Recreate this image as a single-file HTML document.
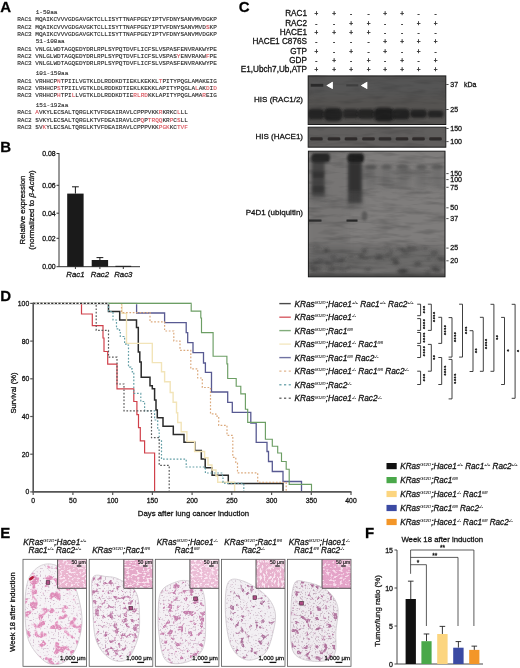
<!DOCTYPE html>
<html><head><meta charset="utf-8"><title>Figure</title>
<style>html,body{margin:0;padding:0;background:#fff;} svg{display:block;filter:blur(0.3px);} text[font-family^="'Liberation Sans'"]{stroke:#111;stroke-width:0.28px;}</style>
</head><body>
<svg width="520" height="668" viewBox="0 0 520 668">
<defs>
<filter id="bl03" x="-20%" y="-20%" width="140%" height="140%"><feGaussianBlur stdDeviation="0.3"/></filter>
<filter id="bl04" x="-20%" y="-20%" width="140%" height="140%"><feGaussianBlur stdDeviation="0.4"/></filter>
<filter id="bl06" x="-50%" y="-50%" width="200%" height="200%"><feGaussianBlur stdDeviation="0.6"/></filter>
<filter id="bl1" x="-50%" y="-50%" width="200%" height="200%"><feGaussianBlur stdDeviation="1"/></filter>
<filter id="bl15" x="-50%" y="-50%" width="200%" height="200%"><feGaussianBlur stdDeviation="1.5"/></filter>
<filter id="bl3" x="-50%" y="-50%" width="200%" height="200%"><feGaussianBlur stdDeviation="3"/></filter>
<filter id="ft0" x="0" y="0" width="100%" height="100%" color-interpolation-filters="sRGB"><feTurbulence type="fractalNoise" baseFrequency="0.13" numOctaves="2" seed="11" result="big"/><feColorMatrix in="big" type="matrix" values="0 0 0 0 0.93  0 0 0 0 0.68  0 0 0 0 0.82  12 0 0 0 -6.480" result="halo"/><feColorMatrix in="big" type="matrix" values="0 0 0 0 0.85  0 0 0 0 0.44  0 0 0 0 0.66  12 0 0 0 -6.960" result="core"/><feTurbulence type="fractalNoise" baseFrequency="0.6" numOctaves="1" seed="31" result="fine"/><feColorMatrix in="fine" type="matrix" values="0 0 0 0 0  0 0 0 0 0  0 0 0 0 0  3 0 0 0 -0.6" result="fmask"/><feComposite in="halo" in2="fmask" operator="in" result="h2"/><feComposite in="core" in2="fmask" operator="in" result="c2"/><feMerge result="m"><feMergeNode in="h2"/><feMergeNode in="c2"/></feMerge><feComponentTransfer in="m"><feFuncA type="linear" slope="0.78"/></feComponentTransfer></filter>
<filter id="fs0" x="0" y="0" width="100%" height="100%" color-interpolation-filters="sRGB"><feTurbulence type="fractalNoise" baseFrequency="0.6" numOctaves="1" seed="51"/><feColorMatrix type="matrix" values="0 0 0 0 0.8  0 0 0 0 0.7  0 0 0 0 0.78  5 0 0 0 -2.85"/></filter>
<filter id="fi0" x="0" y="0" width="100%" height="100%" color-interpolation-filters="sRGB"><feTurbulence type="fractalNoise" baseFrequency="0.35 0.5" numOctaves="2" seed="71"/><feColorMatrix type="matrix" values="0 0 0 0 0.98  0 0 0 0 0.9  0 0 0 0 0.95  6 0 0 0 -3.0"/></filter>
<filter id="ft1" x="0" y="0" width="100%" height="100%" color-interpolation-filters="sRGB"><feTurbulence type="fractalNoise" baseFrequency="0.21" numOctaves="2" seed="12" result="big"/><feColorMatrix in="big" type="matrix" values="0 0 0 0 0.86  0 0 0 0 0.68  0 0 0 0 0.8  12 0 0 0 -6.660" result="halo"/><feColorMatrix in="big" type="matrix" values="0 0 0 0 0.68  0 0 0 0 0.36  0 0 0 0 0.57  12 0 0 0 -7.140" result="core"/><feTurbulence type="fractalNoise" baseFrequency="0.6" numOctaves="1" seed="32" result="fine"/><feColorMatrix in="fine" type="matrix" values="0 0 0 0 0  0 0 0 0 0  0 0 0 0 0  3 0 0 0 -0.6" result="fmask"/><feComposite in="halo" in2="fmask" operator="in" result="h2"/><feComposite in="core" in2="fmask" operator="in" result="c2"/><feMerge result="m"><feMergeNode in="h2"/><feMergeNode in="c2"/></feMerge><feComponentTransfer in="m"><feFuncA type="linear" slope="0.78"/></feComponentTransfer></filter>
<filter id="fs1" x="0" y="0" width="100%" height="100%" color-interpolation-filters="sRGB"><feTurbulence type="fractalNoise" baseFrequency="0.6" numOctaves="1" seed="52"/><feColorMatrix type="matrix" values="0 0 0 0 0.76  0 0 0 0 0.66  0 0 0 0 0.74  5 0 0 0 -2.8"/></filter>
<filter id="fi1" x="0" y="0" width="100%" height="100%" color-interpolation-filters="sRGB"><feTurbulence type="fractalNoise" baseFrequency="0.3 0.55" numOctaves="2" seed="72"/><feColorMatrix type="matrix" values="0 0 0 0 0.98  0 0 0 0 0.9  0 0 0 0 0.94  6 0 0 0 -2.95"/></filter>
<filter id="ft2" x="0" y="0" width="100%" height="100%" color-interpolation-filters="sRGB"><feTurbulence type="fractalNoise" baseFrequency="0.19" numOctaves="2" seed="13" result="big"/><feColorMatrix in="big" type="matrix" values="0 0 0 0 0.88  0 0 0 0 0.7  0 0 0 0 0.81  12 0 0 0 -6.780" result="halo"/><feColorMatrix in="big" type="matrix" values="0 0 0 0 0.72  0 0 0 0 0.38  0 0 0 0 0.6  12 0 0 0 -7.200" result="core"/><feTurbulence type="fractalNoise" baseFrequency="0.6" numOctaves="1" seed="33" result="fine"/><feColorMatrix in="fine" type="matrix" values="0 0 0 0 0  0 0 0 0 0  0 0 0 0 0  3 0 0 0 -0.6" result="fmask"/><feComposite in="halo" in2="fmask" operator="in" result="h2"/><feComposite in="core" in2="fmask" operator="in" result="c2"/><feMerge result="m"><feMergeNode in="h2"/><feMergeNode in="c2"/></feMerge><feComponentTransfer in="m"><feFuncA type="linear" slope="0.78"/></feComponentTransfer></filter>
<filter id="fs2" x="0" y="0" width="100%" height="100%" color-interpolation-filters="sRGB"><feTurbulence type="fractalNoise" baseFrequency="0.6" numOctaves="1" seed="53"/><feColorMatrix type="matrix" values="0 0 0 0 0.78  0 0 0 0 0.68  0 0 0 0 0.76  5 0 0 0 -2.8"/></filter>
<filter id="fi2" x="0" y="0" width="100%" height="100%" color-interpolation-filters="sRGB"><feTurbulence type="fractalNoise" baseFrequency="0.35 0.5" numOctaves="2" seed="73"/><feColorMatrix type="matrix" values="0 0 0 0 0.99  0 0 0 0 0.92  0 0 0 0 0.96  6 0 0 0 -2.9"/></filter>
<filter id="ft3" x="0" y="0" width="100%" height="100%" color-interpolation-filters="sRGB"><feTurbulence type="fractalNoise" baseFrequency="0.2" numOctaves="2" seed="14" result="big"/><feColorMatrix in="big" type="matrix" values="0 0 0 0 0.84  0 0 0 0 0.72  0 0 0 0 0.8  12 0 0 0 -7.020" result="halo"/><feColorMatrix in="big" type="matrix" values="0 0 0 0 0.6  0 0 0 0 0.32  0 0 0 0 0.52  12 0 0 0 -7.440" result="core"/><feTurbulence type="fractalNoise" baseFrequency="0.6" numOctaves="1" seed="34" result="fine"/><feColorMatrix in="fine" type="matrix" values="0 0 0 0 0  0 0 0 0 0  0 0 0 0 0  3 0 0 0 -0.6" result="fmask"/><feComposite in="halo" in2="fmask" operator="in" result="h2"/><feComposite in="core" in2="fmask" operator="in" result="c2"/><feMerge result="m"><feMergeNode in="h2"/><feMergeNode in="c2"/></feMerge><feComponentTransfer in="m"><feFuncA type="linear" slope="0.78"/></feComponentTransfer></filter>
<filter id="fs3" x="0" y="0" width="100%" height="100%" color-interpolation-filters="sRGB"><feTurbulence type="fractalNoise" baseFrequency="0.6" numOctaves="1" seed="54"/><feColorMatrix type="matrix" values="0 0 0 0 0.78  0 0 0 0 0.72  0 0 0 0 0.77  5 0 0 0 -2.9"/></filter>
<filter id="fi3" x="0" y="0" width="100%" height="100%" color-interpolation-filters="sRGB"><feTurbulence type="fractalNoise" baseFrequency="0.5 0.3" numOctaves="2" seed="74"/><feColorMatrix type="matrix" values="0 0 0 0 0.98  0 0 0 0 0.91  0 0 0 0 0.95  6 0 0 0 -2.9"/></filter>
<filter id="ft4" x="0" y="0" width="100%" height="100%" color-interpolation-filters="sRGB"><feTurbulence type="fractalNoise" baseFrequency="0.18" numOctaves="2" seed="15" result="big"/><feColorMatrix in="big" type="matrix" values="0 0 0 0 0.84  0 0 0 0 0.68  0 0 0 0 0.79  12 0 0 0 -6.840" result="halo"/><feColorMatrix in="big" type="matrix" values="0 0 0 0 0.62  0 0 0 0 0.33  0 0 0 0 0.53  12 0 0 0 -7.260" result="core"/><feTurbulence type="fractalNoise" baseFrequency="0.6" numOctaves="1" seed="35" result="fine"/><feColorMatrix in="fine" type="matrix" values="0 0 0 0 0  0 0 0 0 0  0 0 0 0 0  3 0 0 0 -0.6" result="fmask"/><feComposite in="halo" in2="fmask" operator="in" result="h2"/><feComposite in="core" in2="fmask" operator="in" result="c2"/><feMerge result="m"><feMergeNode in="h2"/><feMergeNode in="c2"/></feMerge><feComponentTransfer in="m"><feFuncA type="linear" slope="0.78"/></feComponentTransfer></filter>
<filter id="fs4" x="0" y="0" width="100%" height="100%" color-interpolation-filters="sRGB"><feTurbulence type="fractalNoise" baseFrequency="0.6" numOctaves="1" seed="55"/><feColorMatrix type="matrix" values="0 0 0 0 0.74  0 0 0 0 0.66  0 0 0 0 0.72  5 0 0 0 -2.7"/></filter>
<filter id="fi4" x="0" y="0" width="100%" height="100%" color-interpolation-filters="sRGB"><feTurbulence type="fractalNoise" baseFrequency="0.3 0.5" numOctaves="2" seed="75"/><feColorMatrix type="matrix" values="0 0 0 0 0.97  0 0 0 0 0.86  0 0 0 0 0.92  6 0 0 0 -3.05"/></filter>
<filter id="grain" x="0" y="0" width="100%" height="100%" color-interpolation-filters="sRGB"><feTurbulence type="fractalNoise" baseFrequency="0.04 0.2" numOctaves="3" seed="77"/><feColorMatrix type="matrix" values="0 0 0 0 0.2  0 0 0 0 0.2  0 0 0 0 0.2  0.7 0 0 0 -0.3"/></filter>
<clipPath id="cb1"><rect x="308.2" y="75.9" width="137.6" height="48.6"/></clipPath>
<clipPath id="cb2"><rect x="308.2" y="127.2" width="137.6" height="20"/></clipPath>
<clipPath id="cb3"><rect x="308.4" y="151.2" width="136.6" height="125.6"/></clipPath>
</defs>
<rect width="520" height="668" fill="#fff"/>
<text x="0.2" y="11.6" font-family="'Liberation Sans', Arial, Helvetica, sans-serif" font-weight="bold" font-size="15">A</text>
<text x="35.7" y="14.0" font-family="'Liberation Mono', 'Courier New', monospace" font-size="6.06" fill="#2a2a2a" stroke="#2a2a2a" stroke-width="0.12" style="white-space:pre">1-50aa</text>
<text x="17.2" y="21.4" font-family="'Liberation Mono', 'Courier New', monospace" font-size="6.06" fill="#2a2a2a" stroke="#2a2a2a" stroke-width="0.12" style="white-space:pre">RAC1 MQAIKCVVVGDGAVGKTCLLISYTTNAFPGEYIPTVFDNYSANVMVDGKP</text>
<text x="17.2" y="28.7" font-family="'Liberation Mono', 'Courier New', monospace" font-size="6.06" fill="#2a2a2a" stroke="#2a2a2a" stroke-width="0.12" style="white-space:pre">RAC2 MQAIKCVVVGDGAVGKTCLLISYTTNAFPGEYIPTVFDNYSANVMVD<tspan fill="#d9535c" stroke="#d9535c">S</tspan>KP</text>
<text x="17.2" y="36.0" font-family="'Liberation Mono', 'Courier New', monospace" font-size="6.06" fill="#2a2a2a" stroke="#2a2a2a" stroke-width="0.12" style="white-space:pre">RAC3 MQAIKCVVVGDGAVGKTCLLISYTTNAFPGEYIPTVFDNYSANVMVDGKP</text>
<text x="35.7" y="43.3" font-family="'Liberation Mono', 'Courier New', monospace" font-size="6.06" fill="#2a2a2a" stroke="#2a2a2a" stroke-width="0.12" style="white-space:pre">51-100aa</text>
<text x="17.2" y="50.6" font-family="'Liberation Mono', 'Courier New', monospace" font-size="6.06" fill="#2a2a2a" stroke="#2a2a2a" stroke-width="0.12" style="white-space:pre">RAC1 VNLGLWDTAGQEDYDRLRPLSYPQTDVFLICFSLVSPASFENVRAKWYPE</text>
<text x="17.2" y="58.0" font-family="'Liberation Mono', 'Courier New', monospace" font-size="6.06" fill="#2a2a2a" stroke="#2a2a2a" stroke-width="0.12" style="white-space:pre">RAC2 VNLGLWDTAGQEDYDRLRPLSYPQTDVFLICFSLVSPAS<tspan fill="#d9535c" stroke="#d9535c">Y</tspan>ENVRAKW<tspan fill="#d9535c" stroke="#d9535c">F</tspan>PE</text>
<text x="17.2" y="65.3" font-family="'Liberation Mono', 'Courier New', monospace" font-size="6.06" fill="#2a2a2a" stroke="#2a2a2a" stroke-width="0.12" style="white-space:pre">RAC3 VNLGLWDTAGQEDYDRLRPLSYPQTDVFLICFSLVSPASFENVRAKWYPE</text>
<text x="35.7" y="75.3" font-family="'Liberation Mono', 'Courier New', monospace" font-size="6.06" fill="#2a2a2a" stroke="#2a2a2a" stroke-width="0.12" style="white-space:pre">101-150aa</text>
<text x="17.2" y="82.6" font-family="'Liberation Mono', 'Courier New', monospace" font-size="6.06" fill="#2a2a2a" stroke="#2a2a2a" stroke-width="0.12" style="white-space:pre">RAC1 VRHHCP<tspan fill="#d9535c" stroke="#d9535c">N</tspan>TPIILVGTKLDLRDDKDTIEKLKEKKL<tspan fill="#d9535c" stroke="#d9535c">T</tspan>PITYPQGLAMAKEIG</text>
<text x="17.2" y="90.0" font-family="'Liberation Mono', 'Courier New', monospace" font-size="6.06" fill="#2a2a2a" stroke="#2a2a2a" stroke-width="0.12" style="white-space:pre">RAC2 VRHHCP<tspan fill="#d9535c" stroke="#d9535c">S</tspan>TPIILVGTKLDLRDDKDTIEKLKEKKLAPITYPQGLA<tspan fill="#d9535c" stroke="#d9535c">L</tspan>AK<tspan fill="#d9535c" stroke="#d9535c">D</tspan>I<tspan fill="#d9535c" stroke="#d9535c">D</tspan></text>
<text x="17.2" y="97.3" font-family="'Liberation Mono', 'Courier New', monospace" font-size="6.06" fill="#2a2a2a" stroke="#2a2a2a" stroke-width="0.12" style="white-space:pre">RAC3 VRHHCP<tspan fill="#d9535c" stroke="#d9535c">H</tspan>TPI<tspan fill="#d9535c" stroke="#d9535c">L</tspan>LVGTKLDLRDDKDTIE<tspan fill="#d9535c" stroke="#d9535c">R</tspan><tspan fill="#d9535c" stroke="#d9535c">L</tspan><tspan fill="#d9535c" stroke="#d9535c">R</tspan><tspan fill="#d9535c" stroke="#d9535c">D</tspan>KKLAPITYPQGLAMA<tspan fill="#d9535c" stroke="#d9535c">R</tspan>EIG</text>
<text x="35.7" y="106.8" font-family="'Liberation Mono', 'Courier New', monospace" font-size="6.06" fill="#2a2a2a" stroke="#2a2a2a" stroke-width="0.12" style="white-space:pre">151-192aa</text>
<text x="17.2" y="114.1" font-family="'Liberation Mono', 'Courier New', monospace" font-size="6.06" fill="#2a2a2a" stroke="#2a2a2a" stroke-width="0.12" style="white-space:pre">RAC1 <tspan fill="#d9535c" stroke="#d9535c">A</tspan>VKYLECSALTQRGLKTVFDEAIRAVLCPPPVKK<tspan fill="#d9535c" stroke="#d9535c">R</tspan>KRKC<tspan fill="#d9535c" stroke="#d9535c">L</tspan>LL</text>
<text x="17.2" y="121.5" font-family="'Liberation Mono', 'Courier New', monospace" font-size="6.06" fill="#2a2a2a" stroke="#2a2a2a" stroke-width="0.12" style="white-space:pre">RAC2 SVKYLECSALTQRGLKTVFDEAIRAVLCP<tspan fill="#d9535c" stroke="#d9535c">Q</tspan>P<tspan fill="#d9535c" stroke="#d9535c">T</tspan><tspan fill="#d9535c" stroke="#d9535c">R</tspan><tspan fill="#d9535c" stroke="#d9535c">Q</tspan><tspan fill="#d9535c" stroke="#d9535c">Q</tspan>KR<tspan fill="#d9535c" stroke="#d9535c">P</tspan>C<tspan fill="#d9535c" stroke="#d9535c">S</tspan>LL</text>
<text x="17.2" y="128.8" font-family="'Liberation Mono', 'Courier New', monospace" font-size="6.06" fill="#2a2a2a" stroke="#2a2a2a" stroke-width="0.12" style="white-space:pre">RAC3 SV<tspan fill="#d9535c" stroke="#d9535c">K</tspan>YLECSALTQRGLKTVFDEAIRAVLCPPPVKK<tspan fill="#d9535c" stroke="#d9535c">P</tspan><tspan fill="#d9535c" stroke="#d9535c">G</tspan><tspan fill="#d9535c" stroke="#d9535c">K</tspan>KC<tspan fill="#d9535c" stroke="#d9535c">T</tspan><tspan fill="#d9535c" stroke="#d9535c">V</tspan><tspan fill="#d9535c" stroke="#d9535c">F</tspan></text>
<text x="0.2" y="151.5" font-family="'Liberation Sans', Arial, Helvetica, sans-serif" font-weight="bold" font-size="15">B</text>
<line x1="59.0" y1="153" x2="59.0" y2="266.7" stroke="#333" stroke-width="1"/>
<line x1="59.0" y1="266.7" x2="140" y2="266.7" stroke="#333" stroke-width="1"/>
<line x1="56.5" y1="153.5" x2="59.0" y2="153.5" stroke="#333" stroke-width="1"/>
<text x="55.7" y="155.9" font-family="'Liberation Sans', Arial, Helvetica, sans-serif" font-size="6.9" fill="#1a1a1a" text-anchor="end">0.08</text>
<line x1="56.5" y1="185.3" x2="59.0" y2="185.3" stroke="#333" stroke-width="1"/>
<text x="55.7" y="187.70000000000002" font-family="'Liberation Sans', Arial, Helvetica, sans-serif" font-size="6.9" fill="#1a1a1a" text-anchor="end">0.06</text>
<line x1="56.5" y1="213.2" x2="59.0" y2="213.2" stroke="#333" stroke-width="1"/>
<text x="55.7" y="215.6" font-family="'Liberation Sans', Arial, Helvetica, sans-serif" font-size="6.9" fill="#1a1a1a" text-anchor="end">0.04</text>
<line x1="56.5" y1="238.3" x2="59.0" y2="238.3" stroke="#333" stroke-width="1"/>
<text x="55.7" y="240.70000000000002" font-family="'Liberation Sans', Arial, Helvetica, sans-serif" font-size="6.9" fill="#1a1a1a" text-anchor="end">0.02</text>
<line x1="56.5" y1="266.7" x2="59.0" y2="266.7" stroke="#333" stroke-width="1"/>
<text x="55.7" y="269.09999999999997" font-family="'Liberation Sans', Arial, Helvetica, sans-serif" font-size="6.9" fill="#1a1a1a" text-anchor="end">0.00</text>
<rect x="67.2" y="193.6" width="16.4" height="73.1" fill="#1a1a1a"/>
<line x1="75.4" y1="186.8" x2="75.4" y2="193.6" stroke="#1a1a1a" stroke-width="1"/>
<line x1="72" y1="186.8" x2="78.8" y2="186.8" stroke="#1a1a1a" stroke-width="1"/>
<rect x="91.7" y="260" width="16.4" height="6.7" fill="#1a1a1a"/>
<line x1="99.9" y1="257.6" x2="99.9" y2="260" stroke="#1a1a1a" stroke-width="1"/>
<line x1="96.5" y1="257.6" x2="103.3" y2="257.6" stroke="#1a1a1a" stroke-width="1"/>
<rect x="115.4" y="265.8" width="15.8" height="1" fill="#1a1a1a"/>
<line x1="75.4" y1="266.7" x2="75.4" y2="269" stroke="#333" stroke-width="1"/>
<line x1="99.9" y1="266.7" x2="99.9" y2="269" stroke="#333" stroke-width="1"/>
<line x1="123.3" y1="266.7" x2="123.3" y2="269" stroke="#333" stroke-width="1"/>
<text x="75.4" y="276.8" font-family="'Liberation Sans', Arial, Helvetica, sans-serif" font-style="italic" font-size="7.8" fill="#151515" text-anchor="middle">Rac1</text>
<text x="99.9" y="276.8" font-family="'Liberation Sans', Arial, Helvetica, sans-serif" font-style="italic" font-size="7.8" fill="#151515" text-anchor="middle">Rac2</text>
<text x="123.3" y="276.8" font-family="'Liberation Sans', Arial, Helvetica, sans-serif" font-style="italic" font-size="7.8" fill="#151515" text-anchor="middle">Rac3</text>
<text transform="translate(24.6,210) rotate(-90)" font-family="'Liberation Sans', Arial, Helvetica, sans-serif" font-size="7.9" fill="#151515" text-anchor="middle">Relative expression</text>
<text transform="translate(34.4,210) rotate(-90)" font-family="'Liberation Sans', Arial, Helvetica, sans-serif" font-size="7.9" fill="#151515" text-anchor="middle">(normalized to <tspan font-style="italic">β-Actin</tspan>)</text>
<text x="238.8" y="11.5" font-family="'Liberation Sans', Arial, Helvetica, sans-serif" font-weight="bold" font-size="15">C</text>
<text x="307" y="16.1" font-family="'Liberation Sans', Arial, Helvetica, sans-serif" font-size="8.2" fill="#111" text-anchor="end">RAC1</text>
<text x="316.4" y="16.1" font-family="'Liberation Sans', Arial, Helvetica, sans-serif" font-size="6.4" fill="#151515" text-anchor="middle">+</text>
<text x="334.0" y="16.1" font-family="'Liberation Sans', Arial, Helvetica, sans-serif" font-size="6.4" fill="#151515" text-anchor="middle">+</text>
<text x="351.0" y="16.1" font-family="'Liberation Sans', Arial, Helvetica, sans-serif" font-size="6.4" fill="#151515" text-anchor="middle">-</text>
<text x="368.5" y="16.1" font-family="'Liberation Sans', Arial, Helvetica, sans-serif" font-size="6.4" fill="#151515" text-anchor="middle">-</text>
<text x="385.0" y="16.1" font-family="'Liberation Sans', Arial, Helvetica, sans-serif" font-size="6.4" fill="#151515" text-anchor="middle">+</text>
<text x="402.0" y="16.1" font-family="'Liberation Sans', Arial, Helvetica, sans-serif" font-size="6.4" fill="#151515" text-anchor="middle">+</text>
<text x="418.5" y="16.1" font-family="'Liberation Sans', Arial, Helvetica, sans-serif" font-size="6.4" fill="#151515" text-anchor="middle">-</text>
<text x="435.5" y="16.1" font-family="'Liberation Sans', Arial, Helvetica, sans-serif" font-size="6.4" fill="#151515" text-anchor="middle">-</text>
<text x="307" y="25.5" font-family="'Liberation Sans', Arial, Helvetica, sans-serif" font-size="8.2" fill="#111" text-anchor="end">RAC2</text>
<text x="316.4" y="25.5" font-family="'Liberation Sans', Arial, Helvetica, sans-serif" font-size="6.4" fill="#151515" text-anchor="middle">-</text>
<text x="334.0" y="25.5" font-family="'Liberation Sans', Arial, Helvetica, sans-serif" font-size="6.4" fill="#151515" text-anchor="middle">-</text>
<text x="351.0" y="25.5" font-family="'Liberation Sans', Arial, Helvetica, sans-serif" font-size="6.4" fill="#151515" text-anchor="middle">+</text>
<text x="368.5" y="25.5" font-family="'Liberation Sans', Arial, Helvetica, sans-serif" font-size="6.4" fill="#151515" text-anchor="middle">+</text>
<text x="385.0" y="25.5" font-family="'Liberation Sans', Arial, Helvetica, sans-serif" font-size="6.4" fill="#151515" text-anchor="middle">-</text>
<text x="402.0" y="25.5" font-family="'Liberation Sans', Arial, Helvetica, sans-serif" font-size="6.4" fill="#151515" text-anchor="middle">-</text>
<text x="418.5" y="25.5" font-family="'Liberation Sans', Arial, Helvetica, sans-serif" font-size="6.4" fill="#151515" text-anchor="middle">+</text>
<text x="435.5" y="25.5" font-family="'Liberation Sans', Arial, Helvetica, sans-serif" font-size="6.4" fill="#151515" text-anchor="middle">+</text>
<text x="307" y="34.8" font-family="'Liberation Sans', Arial, Helvetica, sans-serif" font-size="8.2" fill="#111" text-anchor="end">HACE1</text>
<text x="316.4" y="34.8" font-family="'Liberation Sans', Arial, Helvetica, sans-serif" font-size="6.4" fill="#151515" text-anchor="middle">+</text>
<text x="334.0" y="34.8" font-family="'Liberation Sans', Arial, Helvetica, sans-serif" font-size="6.4" fill="#151515" text-anchor="middle">+</text>
<text x="351.0" y="34.8" font-family="'Liberation Sans', Arial, Helvetica, sans-serif" font-size="6.4" fill="#151515" text-anchor="middle">+</text>
<text x="368.5" y="34.8" font-family="'Liberation Sans', Arial, Helvetica, sans-serif" font-size="6.4" fill="#151515" text-anchor="middle">+</text>
<text x="385.0" y="34.8" font-family="'Liberation Sans', Arial, Helvetica, sans-serif" font-size="6.4" fill="#151515" text-anchor="middle">-</text>
<text x="402.0" y="34.8" font-family="'Liberation Sans', Arial, Helvetica, sans-serif" font-size="6.4" fill="#151515" text-anchor="middle">-</text>
<text x="418.5" y="34.8" font-family="'Liberation Sans', Arial, Helvetica, sans-serif" font-size="6.4" fill="#151515" text-anchor="middle">-</text>
<text x="435.5" y="34.8" font-family="'Liberation Sans', Arial, Helvetica, sans-serif" font-size="6.4" fill="#151515" text-anchor="middle">-</text>
<text x="307" y="44.2" font-family="'Liberation Sans', Arial, Helvetica, sans-serif" font-size="8.2" fill="#111" text-anchor="end">HACE1 C876S</text>
<text x="316.4" y="44.2" font-family="'Liberation Sans', Arial, Helvetica, sans-serif" font-size="6.4" fill="#151515" text-anchor="middle">-</text>
<text x="334.0" y="44.2" font-family="'Liberation Sans', Arial, Helvetica, sans-serif" font-size="6.4" fill="#151515" text-anchor="middle">-</text>
<text x="351.0" y="44.2" font-family="'Liberation Sans', Arial, Helvetica, sans-serif" font-size="6.4" fill="#151515" text-anchor="middle">-</text>
<text x="368.5" y="44.2" font-family="'Liberation Sans', Arial, Helvetica, sans-serif" font-size="6.4" fill="#151515" text-anchor="middle">-</text>
<text x="385.0" y="44.2" font-family="'Liberation Sans', Arial, Helvetica, sans-serif" font-size="6.4" fill="#151515" text-anchor="middle">+</text>
<text x="402.0" y="44.2" font-family="'Liberation Sans', Arial, Helvetica, sans-serif" font-size="6.4" fill="#151515" text-anchor="middle">+</text>
<text x="418.5" y="44.2" font-family="'Liberation Sans', Arial, Helvetica, sans-serif" font-size="6.4" fill="#151515" text-anchor="middle">+</text>
<text x="435.5" y="44.2" font-family="'Liberation Sans', Arial, Helvetica, sans-serif" font-size="6.4" fill="#151515" text-anchor="middle">+</text>
<text x="307" y="53.6" font-family="'Liberation Sans', Arial, Helvetica, sans-serif" font-size="8.2" fill="#111" text-anchor="end">GTP</text>
<text x="316.4" y="53.6" font-family="'Liberation Sans', Arial, Helvetica, sans-serif" font-size="6.4" fill="#151515" text-anchor="middle">+</text>
<text x="334.0" y="53.6" font-family="'Liberation Sans', Arial, Helvetica, sans-serif" font-size="6.4" fill="#151515" text-anchor="middle">-</text>
<text x="351.0" y="53.6" font-family="'Liberation Sans', Arial, Helvetica, sans-serif" font-size="6.4" fill="#151515" text-anchor="middle">+</text>
<text x="368.5" y="53.6" font-family="'Liberation Sans', Arial, Helvetica, sans-serif" font-size="6.4" fill="#151515" text-anchor="middle">-</text>
<text x="385.0" y="53.6" font-family="'Liberation Sans', Arial, Helvetica, sans-serif" font-size="6.4" fill="#151515" text-anchor="middle">+</text>
<text x="402.0" y="53.6" font-family="'Liberation Sans', Arial, Helvetica, sans-serif" font-size="6.4" fill="#151515" text-anchor="middle">-</text>
<text x="418.5" y="53.6" font-family="'Liberation Sans', Arial, Helvetica, sans-serif" font-size="6.4" fill="#151515" text-anchor="middle">+</text>
<text x="435.5" y="53.6" font-family="'Liberation Sans', Arial, Helvetica, sans-serif" font-size="6.4" fill="#151515" text-anchor="middle">-</text>
<text x="307" y="62.9" font-family="'Liberation Sans', Arial, Helvetica, sans-serif" font-size="8.2" fill="#111" text-anchor="end">GDP</text>
<text x="316.4" y="62.9" font-family="'Liberation Sans', Arial, Helvetica, sans-serif" font-size="6.4" fill="#151515" text-anchor="middle">-</text>
<text x="334.0" y="62.9" font-family="'Liberation Sans', Arial, Helvetica, sans-serif" font-size="6.4" fill="#151515" text-anchor="middle">+</text>
<text x="351.0" y="62.9" font-family="'Liberation Sans', Arial, Helvetica, sans-serif" font-size="6.4" fill="#151515" text-anchor="middle">-</text>
<text x="368.5" y="62.9" font-family="'Liberation Sans', Arial, Helvetica, sans-serif" font-size="6.4" fill="#151515" text-anchor="middle">+</text>
<text x="385.0" y="62.9" font-family="'Liberation Sans', Arial, Helvetica, sans-serif" font-size="6.4" fill="#151515" text-anchor="middle">-</text>
<text x="402.0" y="62.9" font-family="'Liberation Sans', Arial, Helvetica, sans-serif" font-size="6.4" fill="#151515" text-anchor="middle">+</text>
<text x="418.5" y="62.9" font-family="'Liberation Sans', Arial, Helvetica, sans-serif" font-size="6.4" fill="#151515" text-anchor="middle">-</text>
<text x="435.5" y="62.9" font-family="'Liberation Sans', Arial, Helvetica, sans-serif" font-size="6.4" fill="#151515" text-anchor="middle">+</text>
<text x="307" y="72.3" font-family="'Liberation Sans', Arial, Helvetica, sans-serif" font-size="8.2" fill="#111" text-anchor="end">E1,Ubch7,Ub,ATP</text>
<text x="316.4" y="72.3" font-family="'Liberation Sans', Arial, Helvetica, sans-serif" font-size="6.4" fill="#151515" text-anchor="middle">+</text>
<text x="334.0" y="72.3" font-family="'Liberation Sans', Arial, Helvetica, sans-serif" font-size="6.4" fill="#151515" text-anchor="middle">+</text>
<text x="351.0" y="72.3" font-family="'Liberation Sans', Arial, Helvetica, sans-serif" font-size="6.4" fill="#151515" text-anchor="middle">+</text>
<text x="368.5" y="72.3" font-family="'Liberation Sans', Arial, Helvetica, sans-serif" font-size="6.4" fill="#151515" text-anchor="middle">+</text>
<text x="385.0" y="72.3" font-family="'Liberation Sans', Arial, Helvetica, sans-serif" font-size="6.4" fill="#151515" text-anchor="middle">+</text>
<text x="402.0" y="72.3" font-family="'Liberation Sans', Arial, Helvetica, sans-serif" font-size="6.4" fill="#151515" text-anchor="middle">+</text>
<text x="418.5" y="72.3" font-family="'Liberation Sans', Arial, Helvetica, sans-serif" font-size="6.4" fill="#151515" text-anchor="middle">+</text>
<text x="435.5" y="72.3" font-family="'Liberation Sans', Arial, Helvetica, sans-serif" font-size="6.4" fill="#151515" text-anchor="middle">+</text>
<text x="303" y="101.8" font-family="'Liberation Sans', Arial, Helvetica, sans-serif" font-size="8" fill="#151515" text-anchor="end">HIS (RAC1/2)</text>
<text x="303" y="138.9" font-family="'Liberation Sans', Arial, Helvetica, sans-serif" font-size="8" fill="#151515" text-anchor="end">HIS (HACE1)</text>
<text x="303" y="215.3" font-family="'Liberation Sans', Arial, Helvetica, sans-serif" font-size="8" fill="#151515" text-anchor="end">P4D1 (ubiquitin)</text>
<g clip-path="url(#cb1)">
<rect x="308.2" y="75.9" width="137.6" height="48.6" fill="#555351"/>
<rect x="308.2" y="75.9" width="137.6" height="20" fill="#555" filter="url(#bl3)"/>
<rect x="307.5" y="108.7" width="17.0" height="11.0" rx="4.4" fill="#1f1f1f" opacity="0.85" filter="url(#bl1)"/>
<rect x="323.5" y="108.0" width="19.0" height="13.0" rx="5.2" fill="#1f1f1f" opacity="0.92" filter="url(#bl1)"/>
<rect x="342.7" y="109.0" width="16" height="9.6" rx="3.8" fill="#1f1f1f" opacity="0.82" filter="url(#bl1)"/>
<rect x="357.5" y="109" width="17.0" height="10" rx="4.0" fill="#1f1f1f" opacity="0.85" filter="url(#bl1)"/>
<rect x="373.5" y="107.7" width="21.0" height="13.6" rx="5.4" fill="#1f1f1f" opacity="0.97" filter="url(#bl1)"/>
<rect x="392" y="108.8" width="18" height="11.0" rx="4.4" fill="#1f1f1f" opacity="0.9" filter="url(#bl1)"/>
<rect x="410.3" y="109.6" width="16.4" height="8.4" rx="3.4" fill="#1f1f1f" opacity="0.9" filter="url(#bl1)"/>
<rect x="427.7" y="110.4" width="15.6" height="7.2" rx="2.9" fill="#1f1f1f" opacity="0.9" filter="url(#bl1)"/>
<rect x="310.8" y="83.9" width="12.4" height="2.8" fill="#1c1c1c" opacity="0.75" filter="url(#bl06)"/>
<rect x="346.3" y="84.2" width="12" height="2.2" fill="#2a2a2a" opacity="0.5" filter="url(#bl06)"/>
</g>
<rect x="308.2" y="75.9" width="137.6" height="48.6" fill="none" stroke="#161616" stroke-width="1"/>
<polygon points="326.5,85.4 332.7,81.8 332.7,89" fill="#fff"/>
<polygon points="361,85.4 367.2,81.8 367.2,89" fill="#fff"/>
<g clip-path="url(#cb2)">
<rect x="308.2" y="127.2" width="137.6" height="20" fill="#605e5d"/>
<rect x="310.1" y="137.3" width="12.6" height="3.2" rx="1.2" fill="#262423" opacity="0.85" filter="url(#bl06)"/>
<rect x="327.7" y="137.3" width="12.6" height="3.2" rx="1.2" fill="#262423" opacity="0.85" filter="url(#bl06)"/>
<rect x="344.7" y="137.3" width="12.6" height="3.2" rx="1.2" fill="#262423" opacity="0.85" filter="url(#bl06)"/>
<rect x="362.2" y="137.3" width="12.6" height="3.2" rx="1.2" fill="#262423" opacity="0.85" filter="url(#bl06)"/>
<rect x="378.7" y="137.3" width="12.6" height="3.2" rx="1.2" fill="#262423" opacity="0.85" filter="url(#bl06)"/>
<rect x="395.7" y="137.3" width="12.6" height="3.2" rx="1.2" fill="#262423" opacity="0.85" filter="url(#bl06)"/>
<rect x="412.2" y="137.3" width="12.6" height="3.2" rx="1.2" fill="#262423" opacity="0.85" filter="url(#bl06)"/>
<rect x="429.2" y="137.3" width="12.6" height="3.2" rx="1.2" fill="#262423" opacity="0.85" filter="url(#bl06)"/>
</g>
<rect x="308.2" y="127.2" width="137.6" height="20" fill="none" stroke="#161616" stroke-width="1"/>
<g clip-path="url(#cb3)">
<rect x="308.4" y="151.2" width="136.6" height="125.6" fill="#7f7d7c"/>
<rect x="312" y="158" width="12.5" height="38" fill="#2e2e2e" opacity="0.75" filter="url(#bl15)"/>
<rect x="311" y="188" width="14.5" height="14" fill="#3e3e3e" opacity="0.35" filter="url(#bl3)"/>
<rect x="348" y="158" width="13.8" height="45" fill="#2e2e2e" opacity="0.75" filter="url(#bl15)"/>
<rect x="347" y="195" width="15.8" height="14" fill="#3e3e3e" opacity="0.35" filter="url(#bl3)"/>
<rect x="311.5" y="153.2" width="18.5" height="9" rx="3.5" fill="#1c1c1c" filter="url(#bl1)"/>
<rect x="347.5" y="153.2" width="16.5" height="9" rx="3.5" fill="#1c1c1c" filter="url(#bl1)"/>
<rect x="309" y="219.5" width="12.5" height="2.2" fill="#1c1c1c" opacity="0.9" filter="url(#bl06)"/>
<rect x="346.5" y="219.5" width="11" height="2.2" fill="#1c1c1c" opacity="0.9" filter="url(#bl06)"/>
<ellipse cx="364.5" cy="216" rx="3" ry="5" fill="#444" opacity="0.6" filter="url(#bl1)"/>
<ellipse cx="370.75" cy="167" rx="6.25" ry="2.6" fill="#3a3a3a" opacity="0.55" filter="url(#bl15)"/>
<rect x="364.5" y="168" width="12.5" height="20" fill="#5a5a5a" opacity="0.45" filter="url(#bl3)"/>
<ellipse cx="386.5" cy="167" rx="5.5" ry="2.6" fill="#3a3a3a" opacity="0.55" filter="url(#bl15)"/>
<rect x="381" y="168" width="11" height="20" fill="#5a5a5a" opacity="0.45" filter="url(#bl3)"/>
<ellipse cx="402.7" cy="167" rx="6.300000000000011" ry="2.6" fill="#3a3a3a" opacity="0.55" filter="url(#bl15)"/>
<rect x="396.4" y="168" width="12.600000000000023" height="20" fill="#5a5a5a" opacity="0.45" filter="url(#bl3)"/>
<ellipse cx="421.4" cy="167" rx="5.599999999999994" ry="2.6" fill="#3a3a3a" opacity="0.55" filter="url(#bl15)"/>
<rect x="415.8" y="168" width="11.199999999999989" height="20" fill="#5a5a5a" opacity="0.45" filter="url(#bl3)"/>
<ellipse cx="437.25" cy="167" rx="6.25" ry="2.6" fill="#3a3a3a" opacity="0.55" filter="url(#bl15)"/>
<rect x="431" y="168" width="12.5" height="20" fill="#5a5a5a" opacity="0.45" filter="url(#bl3)"/>
<rect x="308" y="246" width="138" height="26" fill="#4a4a4a" opacity="0.35" filter="url(#bl3)"/>
<rect x="308" y="151" width="40" height="126" fill="#555" opacity="0.18" filter="url(#bl3)"/>
<g filter="url(#bl15)" fill="#2e2e2e">
<ellipse cx="341.1" cy="261.1" rx="2.9" ry="2.0" opacity="0.39"/>
<ellipse cx="317.8" cy="247.3" rx="4.1" ry="1.6" opacity="0.27"/>
<ellipse cx="443.4" cy="259.2" rx="4.1" ry="1.9" opacity="0.39"/>
<ellipse cx="329.3" cy="263.5" rx="4.2" ry="1.9" opacity="0.42"/>
<ellipse cx="399.6" cy="248.7" rx="3.9" ry="2.0" opacity="0.29"/>
<ellipse cx="313.2" cy="269.5" rx="3.2" ry="2.2" opacity="0.46"/>
<ellipse cx="405.4" cy="270.9" rx="3.0" ry="2.3" opacity="0.33"/>
<ellipse cx="435.3" cy="269.9" rx="2.2" ry="1.4" opacity="0.27"/>
<ellipse cx="439.3" cy="258.3" rx="3.6" ry="1.6" opacity="0.35"/>
<ellipse cx="361.1" cy="256.1" rx="3.5" ry="2.0" opacity="0.47"/>
<ellipse cx="401.1" cy="271.2" rx="4.1" ry="2.6" opacity="0.40"/>
<ellipse cx="331.0" cy="269.4" rx="4.4" ry="2.5" opacity="0.37"/>
<ellipse cx="405.4" cy="252.5" rx="4.1" ry="2.0" opacity="0.29"/>
<ellipse cx="317.6" cy="269.2" rx="4.5" ry="1.3" opacity="0.44"/>
<ellipse cx="364.4" cy="250.9" rx="2.7" ry="2.3" opacity="0.46"/>
<ellipse cx="315.0" cy="263.0" rx="2.1" ry="2.2" opacity="0.30"/>
<ellipse cx="427.9" cy="272.5" rx="3.3" ry="2.6" opacity="0.29"/>
<ellipse cx="319.4" cy="262.6" rx="2.1" ry="1.5" opacity="0.32"/>
<ellipse cx="391.4" cy="251.1" rx="2.1" ry="2.4" opacity="0.29"/>
<ellipse cx="438.4" cy="270.3" rx="2.9" ry="1.8" opacity="0.36"/>
<ellipse cx="395.9" cy="262.5" rx="3.4" ry="2.1" opacity="0.48"/>
<ellipse cx="377.4" cy="258.2" rx="3.8" ry="1.5" opacity="0.29"/>
<ellipse cx="441.0" cy="260.5" rx="3.4" ry="1.2" opacity="0.32"/>
<ellipse cx="387.3" cy="247.5" rx="3.5" ry="2.1" opacity="0.22"/>
<ellipse cx="393.7" cy="259.1" rx="3.7" ry="1.7" opacity="0.41"/>
<ellipse cx="408.6" cy="247.6" rx="2.2" ry="2.1" opacity="0.49"/>
<ellipse cx="342.9" cy="258.9" rx="3.5" ry="1.6" opacity="0.31"/>
<ellipse cx="351.2" cy="256.6" rx="3.5" ry="1.6" opacity="0.31"/>
<ellipse cx="413.3" cy="247.7" rx="3.4" ry="2.2" opacity="0.29"/>
<ellipse cx="339.0" cy="267.9" rx="2.6" ry="1.5" opacity="0.33"/>
<ellipse cx="403.2" cy="249.6" rx="2.8" ry="1.7" opacity="0.45"/>
<ellipse cx="368.2" cy="269.2" rx="2.4" ry="1.7" opacity="0.40"/>
<ellipse cx="428.5" cy="258.7" rx="2.6" ry="1.4" opacity="0.36"/>
<ellipse cx="334.8" cy="268.0" rx="4.1" ry="1.5" opacity="0.28"/>
<ellipse cx="418.0" cy="263.7" rx="4.0" ry="1.7" opacity="0.24"/>
<ellipse cx="348.4" cy="267.6" rx="2.7" ry="1.7" opacity="0.33"/>
<ellipse cx="365.7" cy="257.6" rx="4.3" ry="1.4" opacity="0.20"/>
<ellipse cx="436.3" cy="269.9" rx="4.5" ry="1.8" opacity="0.49"/>
<ellipse cx="434.2" cy="252.8" rx="3.9" ry="2.4" opacity="0.40"/>
<ellipse cx="379.1" cy="254.5" rx="2.9" ry="1.5" opacity="0.22"/>
<ellipse cx="388.5" cy="254.5" rx="4.0" ry="1.3" opacity="0.47"/>
<ellipse cx="402.7" cy="271.0" rx="4.2" ry="2.5" opacity="0.37"/>
<ellipse cx="310.8" cy="266.4" rx="2.4" ry="1.6" opacity="0.40"/>
<ellipse cx="379.9" cy="257.8" rx="4.3" ry="2.1" opacity="0.30"/>
<ellipse cx="343.1" cy="269.4" rx="3.2" ry="2.3" opacity="0.31"/>
<ellipse cx="335.6" cy="260.9" rx="4.0" ry="1.4" opacity="0.44"/>
<ellipse cx="433.4" cy="268.0" rx="4.1" ry="1.2" opacity="0.39"/>
<ellipse cx="425.4" cy="248.3" rx="2.7" ry="1.6" opacity="0.36"/>
<ellipse cx="366.1" cy="259.3" rx="3.9" ry="1.2" opacity="0.22"/>
<ellipse cx="326.1" cy="250.2" rx="2.2" ry="2.6" opacity="0.46"/>
<ellipse cx="320.6" cy="260.1" rx="2.8" ry="1.6" opacity="0.31"/>
<ellipse cx="396.3" cy="262.3" rx="2.9" ry="1.5" opacity="0.30"/>
<ellipse cx="325.7" cy="261.4" rx="3.8" ry="1.7" opacity="0.22"/>
<ellipse cx="333.1" cy="256.7" rx="3.5" ry="2.3" opacity="0.31"/>
<ellipse cx="417.2" cy="263.2" rx="3.1" ry="1.7" opacity="0.35"/>
</g>
<rect x="312.5" y="172" width="11.5" height="6" fill="#151515" opacity="0.35" filter="url(#bl1)"/>
<rect x="312.5" y="186" width="11.5" height="6" fill="#151515" opacity="0.3" filter="url(#bl1)"/>
<rect x="348.5" y="163" width="13" height="28" fill="#151515" opacity="0.35" filter="url(#bl15)"/>
<rect x="308.4" y="273.5" width="136.6" height="4" fill="#2a2a2a" opacity="0.6" filter="url(#bl1)"/>
</g>
<rect x="308.4" y="151.2" width="136.6" height="125.6" filter="url(#grain)"/>
<rect x="308.2" y="75.9" width="137.6" height="48.6" filter="url(#grain)"/>
<rect x="308.2" y="127.2" width="137.6" height="20" filter="url(#grain)"/>
<rect x="308.4" y="151.2" width="136.6" height="125.6" fill="none" stroke="#161616" stroke-width="1"/>
<polygon points="326.5,85.4 332.7,81.8 332.7,89" fill="#fff"/>
<polygon points="361,85.4 367.2,81.8 367.2,89" fill="#fff"/>
<line x1="446.3" y1="84.5" x2="448.6" y2="84.5" stroke="#222" stroke-width="0.8"/>
<text x="450.3" y="87" font-family="'Liberation Sans', Arial, Helvetica, sans-serif" font-size="7" fill="#151515">37</text>
<line x1="446.3" y1="109.5" x2="448.6" y2="109.5" stroke="#222" stroke-width="0.8"/>
<text x="450.3" y="112" font-family="'Liberation Sans', Arial, Helvetica, sans-serif" font-size="7" fill="#151515">25</text>
<line x1="446.3" y1="128.5" x2="448.6" y2="128.5" stroke="#222" stroke-width="0.8"/>
<text x="450.3" y="130.6" font-family="'Liberation Sans', Arial, Helvetica, sans-serif" font-size="7" fill="#151515">150</text>
<line x1="446.3" y1="141.6" x2="448.6" y2="141.6" stroke="#222" stroke-width="0.8"/>
<text x="450.3" y="144" font-family="'Liberation Sans', Arial, Helvetica, sans-serif" font-size="7" fill="#151515">100</text>
<line x1="446.3" y1="173.6" x2="448.6" y2="173.6" stroke="#222" stroke-width="0.8"/>
<text x="450.3" y="175.8" font-family="'Liberation Sans', Arial, Helvetica, sans-serif" font-size="7" fill="#151515">150</text>
<line x1="446.3" y1="179.6" x2="448.6" y2="179.6" stroke="#222" stroke-width="0.8"/>
<text x="450.3" y="181.8" font-family="'Liberation Sans', Arial, Helvetica, sans-serif" font-size="7" fill="#151515">100</text>
<line x1="446.3" y1="187.3" x2="448.6" y2="187.3" stroke="#222" stroke-width="0.8"/>
<text x="450.3" y="189.5" font-family="'Liberation Sans', Arial, Helvetica, sans-serif" font-size="7" fill="#151515">75</text>
<line x1="446.3" y1="207.8" x2="448.6" y2="207.8" stroke="#222" stroke-width="0.8"/>
<text x="450.3" y="210" font-family="'Liberation Sans', Arial, Helvetica, sans-serif" font-size="7" fill="#151515">50</text>
<line x1="446.3" y1="218.6" x2="448.6" y2="218.6" stroke="#222" stroke-width="0.8"/>
<text x="450.3" y="220.8" font-family="'Liberation Sans', Arial, Helvetica, sans-serif" font-size="7" fill="#151515">37</text>
<line x1="446.3" y1="248.1" x2="448.6" y2="248.1" stroke="#222" stroke-width="0.8"/>
<text x="450.3" y="250.3" font-family="'Liberation Sans', Arial, Helvetica, sans-serif" font-size="7" fill="#151515">25</text>
<line x1="446.3" y1="260.8" x2="448.6" y2="260.8" stroke="#222" stroke-width="0.8"/>
<text x="450.3" y="263" font-family="'Liberation Sans', Arial, Helvetica, sans-serif" font-size="7" fill="#151515">20</text>
<text x="464" y="87" font-family="'Liberation Sans', Arial, Helvetica, sans-serif" font-size="7" fill="#151515">kDa</text>
<text x="0.2" y="301" font-family="'Liberation Sans', Arial, Helvetica, sans-serif" font-weight="bold" font-size="15">D</text>
<path d="M33.2,303.4 H108.5 V311.5 H119.7 V320 H136.5 V327.5 H138.3 V352 H139.8 V362 H141.2 V377.2 H150 V385.7 H152.3 V388.8 H154.6 V400 H156 V410 H157.3 V417.7 H163 V426.2 H173.3 V434.6 H184 V442.2 H194.8 V450.6 H201.3 V459 H205.2 V467.7 H212.1 V475.2 H228.3 V483.4 H283 V491.9" fill="none" stroke="#2b2b2b" stroke-width="1.5" stroke-linejoin="miter" stroke-linecap="butt"/>
<path d="M33.2,303.4 H81.5 V314 H92.3 V325.7 H103 V338 H104 V351.5 H107.7 V364.2 H117 V388.8 H133.8 V401.5 H136.9 V414.6 H138.5 V427.7 H140.3 V440.8 H144.6 V453 H154.6 V491.9" fill="none" stroke="#d0404a" stroke-width="1.2" stroke-linejoin="miter" stroke-linecap="butt"/>
<path d="M33.2,303.4 H136.6 V313 H164.6 V322.6 H186.2 V332.6 H187.7 V342.6 H193 V352.6 H203.5 V363 H205.4 V372.3 H211.5 V392 H227.7 V402.3 H232.3 V412.3 H250.8 V423 H256.2 V442.3 H267 V451.5 H268.5 V461.5 H272.3 V471.5 H283 V481.5 H301.5 V491.9" fill="none" stroke="#585a92" stroke-width="1.3" stroke-linejoin="miter" stroke-linecap="butt"/>
<path d="M33.2,303.4 H122 V313.4 H126.5 V343.4 H152.3 V362.6 H161.5 V371.8 H164.6 V381.8 H170.2 V392.5 H173.1 V402.3 H176.5 V412.7 H177.7 V422.5 H181.2 V431.7 H186.9 V441.5 H194.6 V451.5 H204.6 V457.7 H208 V465 H212 V470 H216 V476 H217.7 V482.3 H234.6 V491.9" fill="none" stroke="#f2e4b8" stroke-width="1.4" stroke-linejoin="miter" stroke-linecap="butt"/>
<path d="M33.2,303.4 H191.2 V311.1 H200.8 V318 H201.5 V332.6 H213.1 V356.2 H226.9 V363.8 H227.7 V378.5 H236.2 V386.2 H240.8 V393.8 H245.4 V409.2 H247.7 V422.3 H265.4 V439.2 H272.3 V446.2 H277.7 V453 H281.5 V461.5 H286.2 V469.2 H289.2 V484.3 H311.5 V491.9" fill="none" stroke="#6c9e64" stroke-width="1.15" stroke-linejoin="miter" stroke-linecap="butt"/>
<path d="M33.2,303.4 H121.5 V312.6 H150 V321.8 H164.6 V331 H173.8 V341 H180 V350.3 H190.8 V368.8 H197.7 V378 H202.3 V387.5 H210.5 V413.8 H215.8 V416.2 H218.7 V425.4 H227 V435.4 H232.8 V457.3 H235.8 V463 H237.5 V472.9 H257.7 V482.3 H286.2 V491.9" fill="none" stroke="#dba97c" stroke-width="1.2" stroke-dasharray="1.7 1.7" stroke-linejoin="miter" stroke-linecap="butt"/>
<path d="M33.2,303.4 H108.5 V311.5 H113 V320 H116.5 V328.8 H119.5 V330.3 H120.3 V336.5 H124 V337.2 H124.6 V344.2 H128 V345 H128.5 V367.2 H130.8 V368.8 H132.3 V371.8 H133.8 V393.4 H140.8 V401.5 H144.6 V410.8 H154.6 V420 H157.7 V430 H159.2 V440 H161.5 V459.2 H186.2 V467 H205.4 V473 H222.5 V477 H223 V482.3 H224.8 V483.4 H243.8 V491.9" fill="none" stroke="#629ea6" stroke-width="1.2" stroke-dasharray="1.7 1.7" stroke-linejoin="miter" stroke-linecap="butt"/>
<path d="M33.2,303.4 H96.2 V330.3 H108.5 V357.2 H117 V384 H124 V410.8 H151.5 V437.7 H159.2 V465.4 H169.2 V491.9" fill="none" stroke="#5a5a5a" stroke-width="1.2" stroke-dasharray="1.7 1.7" stroke-linejoin="miter" stroke-linecap="butt"/>
<line x1="33.2" y1="303.4" x2="108.5" y2="303.4" stroke="#fff" stroke-width="1.8"/>
<line x1="33.2" y1="303.4" x2="108.5" y2="303.4" stroke="#333" stroke-width="1.3" stroke-dasharray="2.2 1.4"/>
<line x1="108.5" y1="303.4" x2="191.2" y2="303.4" stroke="#fff" stroke-width="1.6"/>
<line x1="108.5" y1="303.4" x2="191.2" y2="303.4" stroke="#6c9e64" stroke-width="1.2"/>
<line x1="33.2" y1="302.7" x2="33.2" y2="491.9" stroke="#555" stroke-width="1.6"/>
<line x1="32.400000000000006" y1="491.9" x2="351.5" y2="491.9" stroke="#555" stroke-width="1.6"/>
<line x1="30.200000000000003" y1="491.9" x2="33.2" y2="491.9" stroke="#555" stroke-width="1.2"/>
<text x="29.200000000000003" y="494.3" font-family="'Liberation Sans', Arial, Helvetica, sans-serif" font-size="6.8" fill="#1a1a1a" text-anchor="end">0</text>
<line x1="30.200000000000003" y1="454.2" x2="33.2" y2="454.2" stroke="#555" stroke-width="1.2"/>
<text x="29.200000000000003" y="456.6" font-family="'Liberation Sans', Arial, Helvetica, sans-serif" font-size="6.8" fill="#1a1a1a" text-anchor="end">20</text>
<line x1="30.200000000000003" y1="416.5" x2="33.2" y2="416.5" stroke="#555" stroke-width="1.2"/>
<text x="29.200000000000003" y="418.9" font-family="'Liberation Sans', Arial, Helvetica, sans-serif" font-size="6.8" fill="#1a1a1a" text-anchor="end">40</text>
<line x1="30.200000000000003" y1="378.8" x2="33.2" y2="378.8" stroke="#555" stroke-width="1.2"/>
<text x="29.200000000000003" y="381.2" font-family="'Liberation Sans', Arial, Helvetica, sans-serif" font-size="6.8" fill="#1a1a1a" text-anchor="end">60</text>
<line x1="30.200000000000003" y1="341.1" x2="33.2" y2="341.1" stroke="#555" stroke-width="1.2"/>
<text x="29.200000000000003" y="343.5" font-family="'Liberation Sans', Arial, Helvetica, sans-serif" font-size="6.8" fill="#1a1a1a" text-anchor="end">80</text>
<line x1="30.200000000000003" y1="303.4" x2="33.2" y2="303.4" stroke="#555" stroke-width="1.2"/>
<text x="29.200000000000003" y="305.8" font-family="'Liberation Sans', Arial, Helvetica, sans-serif" font-size="6.8" fill="#1a1a1a" text-anchor="end">100</text>
<line x1="33.2" y1="491.9" x2="33.2" y2="494.9" stroke="#555" stroke-width="1.2"/>
<text x="33.2" y="502.8" font-family="'Liberation Sans', Arial, Helvetica, sans-serif" font-size="6.8" fill="#1a1a1a" text-anchor="middle">0</text>
<line x1="72.9" y1="491.9" x2="72.9" y2="494.9" stroke="#555" stroke-width="1.2"/>
<text x="72.9" y="502.8" font-family="'Liberation Sans', Arial, Helvetica, sans-serif" font-size="6.8" fill="#1a1a1a" text-anchor="middle">50</text>
<line x1="112.7" y1="491.9" x2="112.7" y2="494.9" stroke="#555" stroke-width="1.2"/>
<text x="112.7" y="502.8" font-family="'Liberation Sans', Arial, Helvetica, sans-serif" font-size="6.8" fill="#1a1a1a" text-anchor="middle">100</text>
<line x1="152.4" y1="491.9" x2="152.4" y2="494.9" stroke="#555" stroke-width="1.2"/>
<text x="152.4" y="502.8" font-family="'Liberation Sans', Arial, Helvetica, sans-serif" font-size="6.8" fill="#1a1a1a" text-anchor="middle">150</text>
<line x1="192.1" y1="491.9" x2="192.1" y2="494.9" stroke="#555" stroke-width="1.2"/>
<text x="192.1" y="502.8" font-family="'Liberation Sans', Arial, Helvetica, sans-serif" font-size="6.8" fill="#1a1a1a" text-anchor="middle">200</text>
<line x1="231.8" y1="491.9" x2="231.8" y2="494.9" stroke="#555" stroke-width="1.2"/>
<text x="231.8" y="502.8" font-family="'Liberation Sans', Arial, Helvetica, sans-serif" font-size="6.8" fill="#1a1a1a" text-anchor="middle">250</text>
<line x1="271.6" y1="491.9" x2="271.6" y2="494.9" stroke="#555" stroke-width="1.2"/>
<text x="271.6" y="502.8" font-family="'Liberation Sans', Arial, Helvetica, sans-serif" font-size="6.8" fill="#1a1a1a" text-anchor="middle">300</text>
<line x1="311.3" y1="491.9" x2="311.3" y2="494.9" stroke="#555" stroke-width="1.2"/>
<text x="311.3" y="502.8" font-family="'Liberation Sans', Arial, Helvetica, sans-serif" font-size="6.8" fill="#1a1a1a" text-anchor="middle">350</text>
<line x1="351.0" y1="491.9" x2="351.0" y2="494.9" stroke="#555" stroke-width="1.2"/>
<text x="351.0" y="502.8" font-family="'Liberation Sans', Arial, Helvetica, sans-serif" font-size="6.8" fill="#1a1a1a" text-anchor="middle">400</text>
<text x="193.5" y="515.8" font-family="'Liberation Sans', Arial, Helvetica, sans-serif" font-size="7.8" fill="#151515" text-anchor="middle">Days after lung cancer induction</text>
<text transform="translate(15.5,393) rotate(-90)" font-family="'Liberation Sans', Arial, Helvetica, sans-serif" font-size="7.6" fill="#151515" text-anchor="middle">Survival (%)</text>
<line x1="279.3" y1="303.6" x2="290.8" y2="303.6" stroke="#2b2b2b" stroke-width="1.4" opacity="0.85"/>
<text x="294.4" y="306.5" font-family="'Liberation Sans', Arial, Helvetica, sans-serif" font-style="italic" font-size="8.3" fill="#151515" style="white-space:pre">KRas<tspan font-size="4.2" dy="-2.7" fill="#3a3a3a" style="stroke-width:0.1px">G12D</tspan><tspan dy="2.7">;</tspan>Hace1<tspan font-size="4.2" dy="-2.7" fill="#3a3a3a" style="stroke-width:0.1px">+/+</tspan><tspan dy="2.7"> </tspan>Rac1<tspan font-size="4.2" dy="-2.7" fill="#3a3a3a" style="stroke-width:0.1px">+/+</tspan><tspan dy="2.7"> </tspan>Rac2<tspan font-size="4.2" dy="-2.7" fill="#3a3a3a" style="stroke-width:0.1px">+/+</tspan><tspan dy="2.7"></tspan></text>
<line x1="279.3" y1="317.2" x2="290.8" y2="317.2" stroke="#d0404a" stroke-width="1.4" opacity="0.85"/>
<text x="294.4" y="320.09999999999997" font-family="'Liberation Sans', Arial, Helvetica, sans-serif" font-style="italic" font-size="8.3" fill="#151515" style="white-space:pre">KRas<tspan font-size="4.2" dy="-2.7" fill="#3a3a3a" style="stroke-width:0.1px">G12D</tspan><tspan dy="2.7">;</tspan>Hace1<tspan font-size="4.2" dy="-2.7" fill="#3a3a3a" style="stroke-width:0.1px">-/-</tspan><tspan dy="2.7"></tspan></text>
<line x1="279.3" y1="330.6" x2="290.8" y2="330.6" stroke="#6c9e64" stroke-width="1.4" opacity="0.85"/>
<text x="294.4" y="333.5" font-family="'Liberation Sans', Arial, Helvetica, sans-serif" font-style="italic" font-size="8.3" fill="#151515" style="white-space:pre">KRas<tspan font-size="4.2" dy="-2.7" fill="#3a3a3a" style="stroke-width:0.1px">G12D</tspan><tspan dy="2.7">;</tspan>Rac1<tspan font-size="4.2" dy="-2.7" fill="#3a3a3a" style="stroke-width:0.1px">fl/fl</tspan><tspan dy="2.7"></tspan></text>
<line x1="279.3" y1="344.1" x2="290.8" y2="344.1" stroke="#f2e4b8" stroke-width="1.4" opacity="0.85"/>
<text x="294.4" y="347.0" font-family="'Liberation Sans', Arial, Helvetica, sans-serif" font-style="italic" font-size="8.3" fill="#151515" style="white-space:pre">KRas<tspan font-size="4.2" dy="-2.7" fill="#3a3a3a" style="stroke-width:0.1px">G12D</tspan><tspan dy="2.7">;</tspan>Hace1<tspan font-size="4.2" dy="-2.7" fill="#3a3a3a" style="stroke-width:0.1px">-/-</tspan><tspan dy="2.7"> </tspan>Rac1<tspan font-size="4.2" dy="-2.7" fill="#3a3a3a" style="stroke-width:0.1px">fl/fl</tspan><tspan dy="2.7"></tspan></text>
<line x1="279.3" y1="357.6" x2="290.8" y2="357.6" stroke="#585a92" stroke-width="1.4" opacity="0.85"/>
<text x="294.4" y="360.5" font-family="'Liberation Sans', Arial, Helvetica, sans-serif" font-style="italic" font-size="8.3" fill="#151515" style="white-space:pre">KRas<tspan font-size="4.2" dy="-2.7" fill="#3a3a3a" style="stroke-width:0.1px">G12D</tspan><tspan dy="2.7">;</tspan>Rac1<tspan font-size="4.2" dy="-2.7" fill="#3a3a3a" style="stroke-width:0.1px">fl/fl</tspan><tspan dy="2.7"> </tspan>Rac2<tspan font-size="4.2" dy="-2.7" fill="#3a3a3a" style="stroke-width:0.1px">-/-</tspan><tspan dy="2.7"></tspan></text>
<line x1="279.3" y1="371.1" x2="290.8" y2="371.1" stroke="#dba97c" stroke-width="1.4" opacity="0.85" stroke-dasharray="2.2 2.5"/>
<text x="294.4" y="374.0" font-family="'Liberation Sans', Arial, Helvetica, sans-serif" font-style="italic" font-size="8.3" fill="#151515" style="white-space:pre">KRas<tspan font-size="4.2" dy="-2.7" fill="#3a3a3a" style="stroke-width:0.1px">G12D</tspan><tspan dy="2.7">;</tspan>Hace1<tspan font-size="4.2" dy="-2.7" fill="#3a3a3a" style="stroke-width:0.1px">-/-</tspan><tspan dy="2.7"> </tspan>Rac1<tspan font-size="4.2" dy="-2.7" fill="#3a3a3a" style="stroke-width:0.1px">fl/fl</tspan><tspan dy="2.7"> </tspan>Rac2<tspan font-size="4.2" dy="-2.7" fill="#3a3a3a" style="stroke-width:0.1px">-/-</tspan><tspan dy="2.7"></tspan></text>
<line x1="279.3" y1="384.7" x2="290.8" y2="384.7" stroke="#629ea6" stroke-width="1.4" opacity="0.85" stroke-dasharray="2.2 2.5"/>
<text x="294.4" y="387.59999999999997" font-family="'Liberation Sans', Arial, Helvetica, sans-serif" font-style="italic" font-size="8.3" fill="#151515" style="white-space:pre">KRas<tspan font-size="4.2" dy="-2.7" fill="#3a3a3a" style="stroke-width:0.1px">G12D</tspan><tspan dy="2.7">;</tspan>Rac2<tspan font-size="4.2" dy="-2.7" fill="#3a3a3a" style="stroke-width:0.1px">-/-</tspan><tspan dy="2.7"></tspan></text>
<line x1="279.3" y1="398.3" x2="290.8" y2="398.3" stroke="#5a5a5a" stroke-width="1.4" opacity="0.85" stroke-dasharray="2.2 2.5"/>
<text x="294.4" y="401.2" font-family="'Liberation Sans', Arial, Helvetica, sans-serif" font-style="italic" font-size="8.3" fill="#151515" style="white-space:pre">KRas<tspan font-size="4.2" dy="-2.7" fill="#3a3a3a" style="stroke-width:0.1px">G12D</tspan><tspan dy="2.7">;</tspan>Hace1<tspan font-size="4.2" dy="-2.7" fill="#3a3a3a" style="stroke-width:0.1px">-/-</tspan><tspan dy="2.7"> </tspan>Rac2<tspan font-size="4.2" dy="-2.7" fill="#3a3a3a" style="stroke-width:0.1px">-/-</tspan><tspan dy="2.7"></tspan></text>
<path d="M417.2,304.2 H420.59999999999997 V315.7 H417.2" fill="none" stroke="#2a2a2a" stroke-width="0.9"/>
<text transform="translate(420.59999999999997,309.9) rotate(90)" font-family="'Liberation Sans', Arial, Helvetica, sans-serif" font-size="5.2" fill="#1a1a1a" text-anchor="middle" letter-spacing="0.6" style="stroke-width:0.35px">***</text>
<path d="M417.2,318.6 H420.59999999999997 V330.4 H417.2" fill="none" stroke="#2a2a2a" stroke-width="0.9"/>
<text transform="translate(420.59999999999997,324.5) rotate(90)" font-family="'Liberation Sans', Arial, Helvetica, sans-serif" font-size="5.2" fill="#1a1a1a" text-anchor="middle" letter-spacing="0.6" style="stroke-width:0.35px">****</text>
<path d="M417.2,332.5 H420.59999999999997 V343.4 H417.2" fill="none" stroke="#2a2a2a" stroke-width="0.9"/>
<text transform="translate(420.59999999999997,337.9) rotate(90)" font-family="'Liberation Sans', Arial, Helvetica, sans-serif" font-size="5.2" fill="#1a1a1a" text-anchor="middle" letter-spacing="0.6" style="stroke-width:0.35px">****</text>
<path d="M417.2,345.6 H420.59999999999997 V357.5 H417.2" fill="none" stroke="#2a2a2a" stroke-width="0.9"/>
<text transform="translate(420.59999999999997,351.6) rotate(90)" font-family="'Liberation Sans', Arial, Helvetica, sans-serif" font-size="5.2" fill="#1a1a1a" text-anchor="middle" letter-spacing="0.6" style="stroke-width:0.35px">****</text>
<path d="M417.2,371.2 H420.59999999999997 V384.5 H417.2" fill="none" stroke="#2a2a2a" stroke-width="0.9"/>
<text transform="translate(420.59999999999997,377.9) rotate(90)" font-family="'Liberation Sans', Arial, Helvetica, sans-serif" font-size="5.2" fill="#1a1a1a" text-anchor="middle" letter-spacing="0.6" style="stroke-width:0.35px">***</text>
<path d="M427.9,304.2 H431.29999999999995 V330.4 H427.9" fill="none" stroke="#2a2a2a" stroke-width="0.9"/>
<text transform="translate(431.29999999999995,317.3) rotate(90)" font-family="'Liberation Sans', Arial, Helvetica, sans-serif" font-size="5.2" fill="#1a1a1a" text-anchor="middle" letter-spacing="0.6" style="stroke-width:0.35px">****</text>
<path d="M427.9,344.4 H431.29999999999995 V371.2 H427.9" fill="none" stroke="#2a2a2a" stroke-width="0.9"/>
<text transform="translate(431.29999999999995,357.8) rotate(90)" font-family="'Liberation Sans', Arial, Helvetica, sans-serif" font-size="5.2" fill="#1a1a1a" text-anchor="middle" letter-spacing="0.6" style="stroke-width:0.35px">**</text>
<path d="M438.3,317.3 H441.7 V343.4 H438.3" fill="none" stroke="#2a2a2a" stroke-width="0.9"/>
<text transform="translate(441.7,330.4) rotate(90)" font-family="'Liberation Sans', Arial, Helvetica, sans-serif" font-size="5.2" fill="#1a1a1a" text-anchor="middle" letter-spacing="0.6" style="stroke-width:0.35px">****</text>
<path d="M438.3,357.5 H441.7 V384.5 H438.3" fill="none" stroke="#2a2a2a" stroke-width="0.9"/>
<text transform="translate(441.7,371.0) rotate(90)" font-family="'Liberation Sans', Arial, Helvetica, sans-serif" font-size="5.2" fill="#1a1a1a" text-anchor="middle" letter-spacing="0.6" style="stroke-width:0.35px">****</text>
<path d="M448.6,317.6 H452.0 V357.1 H448.6" fill="none" stroke="#2a2a2a" stroke-width="0.9"/>
<text transform="translate(452.0,337.4) rotate(90)" font-family="'Liberation Sans', Arial, Helvetica, sans-serif" font-size="5.2" fill="#1a1a1a" text-anchor="middle" letter-spacing="0.6" style="stroke-width:0.35px">****</text>
<path d="M448.6,359.4 H452.0 V398.9 H448.6" fill="none" stroke="#2a2a2a" stroke-width="0.9"/>
<text transform="translate(452.0,379.1) rotate(90)" font-family="'Liberation Sans', Arial, Helvetica, sans-serif" font-size="5.2" fill="#1a1a1a" text-anchor="middle" letter-spacing="0.6" style="stroke-width:0.35px">****</text>
<path d="M459.1,304.2 H462.5 V357.1 H459.1" fill="none" stroke="#2a2a2a" stroke-width="0.9"/>
<text transform="translate(462.5,330.6) rotate(90)" font-family="'Liberation Sans', Arial, Helvetica, sans-serif" font-size="5.2" fill="#1a1a1a" text-anchor="middle" letter-spacing="0.6" style="stroke-width:0.35px">***</text>
<path d="M469.6,330.7 H473.0 V371.5 H469.6" fill="none" stroke="#2a2a2a" stroke-width="0.9"/>
<text transform="translate(473.0,351.1) rotate(90)" font-family="'Liberation Sans', Arial, Helvetica, sans-serif" font-size="5.2" fill="#1a1a1a" text-anchor="middle" letter-spacing="0.6" style="stroke-width:0.35px">**</text>
<path d="M479.9,317.3 H483.29999999999995 V371.3 H479.9" fill="none" stroke="#2a2a2a" stroke-width="0.9"/>
<text transform="translate(483.29999999999995,344.3) rotate(90)" font-family="'Liberation Sans', Arial, Helvetica, sans-serif" font-size="5.2" fill="#1a1a1a" text-anchor="middle" letter-spacing="0.6" style="stroke-width:0.35px">****</text>
<path d="M490.5,304.3 H493.9 V371.3 H490.5" fill="none" stroke="#2a2a2a" stroke-width="0.9"/>
<text transform="translate(493.9,337.8) rotate(90)" font-family="'Liberation Sans', Arial, Helvetica, sans-serif" font-size="5.2" fill="#1a1a1a" text-anchor="middle" letter-spacing="0.6" style="stroke-width:0.35px">**</text>
<path d="M501.1,317.4 H504.5 V384.5 H501.1" fill="none" stroke="#2a2a2a" stroke-width="0.9"/>
<text transform="translate(504.5,350.9) rotate(90)" font-family="'Liberation Sans', Arial, Helvetica, sans-serif" font-size="5.2" fill="#1a1a1a" text-anchor="middle" letter-spacing="0.6" style="stroke-width:0.35px">*</text>
<path d="M511.7,304.3 H515.1 V398.3 H511.7" fill="none" stroke="#2a2a2a" stroke-width="0.9"/>
<text transform="translate(515.1,351.3) rotate(90)" font-family="'Liberation Sans', Arial, Helvetica, sans-serif" font-size="5.2" fill="#1a1a1a" text-anchor="middle" letter-spacing="0.6" style="stroke-width:0.35px">*</text>
<text x="0.2" y="538" font-family="'Liberation Sans', Arial, Helvetica, sans-serif" font-weight="bold" font-size="15">E</text>
<text transform="translate(14.6,612) rotate(-90)" font-family="'Liberation Sans', Arial, Helvetica, sans-serif" font-size="7.6" fill="#151515" text-anchor="middle">Week 18 after induction</text>
<text x="54.8" y="544.8" font-family="'Liberation Sans', Arial, Helvetica, sans-serif" font-style="italic" font-size="8.2" fill="#1a1a1a" text-anchor="middle" style="white-space:pre">KRas<tspan font-size="4.2" dy="-2.7" fill="#3a3a3a" style="stroke-width:0.1px">G12D</tspan><tspan dy="2.7">;</tspan>Hace1<tspan font-size="4.2" dy="-2.7" fill="#3a3a3a" style="stroke-width:0.1px">+/+</tspan><tspan dy="2.7"></tspan></text>
<text x="54.8" y="552.8" font-family="'Liberation Sans', Arial, Helvetica, sans-serif" font-style="italic" font-size="8.2" fill="#1a1a1a" text-anchor="middle" style="white-space:pre">Rac1<tspan font-size="4.2" dy="-2.7" fill="#3a3a3a" style="stroke-width:0.1px">+/+</tspan><tspan dy="2.7"> </tspan>Rac2<tspan font-size="4.2" dy="-2.7" fill="#3a3a3a" style="stroke-width:0.1px">+/+</tspan><tspan dy="2.7"></tspan></text>
<text x="121.0" y="552.8" font-family="'Liberation Sans', Arial, Helvetica, sans-serif" font-style="italic" font-size="8.2" fill="#1a1a1a" text-anchor="middle" style="white-space:pre">KRas<tspan font-size="4.2" dy="-2.7" fill="#3a3a3a" style="stroke-width:0.1px">G12D</tspan><tspan dy="2.7">;</tspan>Rac1<tspan font-size="4.2" dy="-2.7" fill="#3a3a3a" style="stroke-width:0.1px">fl/fl</tspan><tspan dy="2.7"></tspan></text>
<text x="187.1" y="544.8" font-family="'Liberation Sans', Arial, Helvetica, sans-serif" font-style="italic" font-size="8.2" fill="#1a1a1a" text-anchor="middle" style="white-space:pre">KRas<tspan font-size="4.2" dy="-2.7" fill="#3a3a3a" style="stroke-width:0.1px">G12D</tspan><tspan dy="2.7">;</tspan>Hace1<tspan font-size="4.2" dy="-2.7" fill="#3a3a3a" style="stroke-width:0.1px">-/-</tspan><tspan dy="2.7"></tspan></text>
<text x="187.1" y="552.8" font-family="'Liberation Sans', Arial, Helvetica, sans-serif" font-style="italic" font-size="8.2" fill="#1a1a1a" text-anchor="middle" style="white-space:pre">Rac1<tspan font-size="4.2" dy="-2.7" fill="#3a3a3a" style="stroke-width:0.1px">fl/fl</tspan><tspan dy="2.7"></tspan></text>
<text x="253.2" y="544.8" font-family="'Liberation Sans', Arial, Helvetica, sans-serif" font-style="italic" font-size="8.2" fill="#1a1a1a" text-anchor="middle" style="white-space:pre">KRas<tspan font-size="4.2" dy="-2.7" fill="#3a3a3a" style="stroke-width:0.1px">G12D</tspan><tspan dy="2.7">;</tspan>Rac1<tspan font-size="4.2" dy="-2.7" fill="#3a3a3a" style="stroke-width:0.1px">fl/fl</tspan><tspan dy="2.7"></tspan></text>
<text x="253.2" y="552.8" font-family="'Liberation Sans', Arial, Helvetica, sans-serif" font-style="italic" font-size="8.2" fill="#1a1a1a" text-anchor="middle" style="white-space:pre">Rac2<tspan font-size="4.2" dy="-2.7" fill="#3a3a3a" style="stroke-width:0.1px">-/-</tspan><tspan dy="2.7"></tspan></text>
<text x="319.2" y="544.8" font-family="'Liberation Sans', Arial, Helvetica, sans-serif" font-style="italic" font-size="8.2" fill="#1a1a1a" text-anchor="middle" style="white-space:pre">KRas<tspan font-size="4.2" dy="-2.7" fill="#3a3a3a" style="stroke-width:0.1px">G12D</tspan><tspan dy="2.7">;</tspan>Hace1<tspan font-size="4.2" dy="-2.7" fill="#3a3a3a" style="stroke-width:0.1px">-/-</tspan><tspan dy="2.7"></tspan></text>
<text x="319.2" y="552.8" font-family="'Liberation Sans', Arial, Helvetica, sans-serif" font-style="italic" font-size="8.2" fill="#1a1a1a" text-anchor="middle" style="white-space:pre">Rac1<tspan font-size="4.2" dy="-2.7" fill="#3a3a3a" style="stroke-width:0.1px">fl/fl</tspan><tspan dy="2.7"> </tspan>Rac2<tspan font-size="4.2" dy="-2.7" fill="#3a3a3a" style="stroke-width:0.1px">-/-</tspan><tspan dy="2.7"></tspan></text>
<clipPath id="lc0"><path d="M28.4,579.5 C30.9,572.8 35.6,568.4 40.0,566.0 C44.4,563.6 50.0,563.3 55.0,565.0 C60.0,566.7 66.1,570.5 70.0,576.0 C73.9,581.5 76.6,590.2 78.6,598.0 C80.6,605.8 82.5,614.4 82.0,623.0 C81.5,631.6 78.6,643.1 75.3,649.8 C72.0,656.5 67.0,661.2 61.9,663.2 C56.9,665.2 50.6,665.4 45.0,661.5 C39.4,657.6 31.7,649.0 28.4,639.8 C25.1,630.5 25.0,616.0 25.0,606.0 C25.0,596.0 25.9,586.2 28.4,579.5Z"/></clipPath>
<path d="M28.4,579.5 C30.9,572.8 35.6,568.4 40.0,566.0 C44.4,563.6 50.0,563.3 55.0,565.0 C60.0,566.7 66.1,570.5 70.0,576.0 C73.9,581.5 76.6,590.2 78.6,598.0 C80.6,605.8 82.5,614.4 82.0,623.0 C81.5,631.6 78.6,643.1 75.3,649.8 C72.0,656.5 67.0,661.2 61.9,663.2 C56.9,665.2 50.6,665.4 45.0,661.5 C39.4,657.6 31.7,649.0 28.4,639.8 C25.1,630.5 25.0,616.0 25.0,606.0 C25.0,596.0 25.9,586.2 28.4,579.5Z" fill="#f6f3f6"/>
<g clip-path="url(#lc0)">
<rect x="24.0" y="564.0" width="59.0" height="100.2" filter="url(#fs0)"/>
<rect x="24.0" y="564.0" width="59.0" height="100.2" filter="url(#ft0)"/>
</g>
<path d="M28.4,579.5 C30.9,572.8 35.6,568.4 40.0,566.0 C44.4,563.6 50.0,563.3 55.0,565.0 C60.0,566.7 66.1,570.5 70.0,576.0 C73.9,581.5 76.6,590.2 78.6,598.0 C80.6,605.8 82.5,614.4 82.0,623.0 C81.5,631.6 78.6,643.1 75.3,649.8 C72.0,656.5 67.0,661.2 61.9,663.2 C56.9,665.2 50.6,665.4 45.0,661.5 C39.4,657.6 31.7,649.0 28.4,639.8 C25.1,630.5 25.0,616.0 25.0,606.0 C25.0,596.0 25.9,586.2 28.4,579.5Z" fill="none" stroke="#d3cdd3" stroke-width="0.9"/>
<ellipse cx="31.5" cy="578.3" rx="2.9" ry="1.5" transform="rotate(-35 31.5 578.3)" fill="#b51f3e"/>
<rect x="46.2" y="580.7" width="3.6" height="3.6" fill="#b04d86" stroke="#3a2030" stroke-width="0.6"/>
<rect x="57.599999999999994" y="559.3" width="29.0" height="29.0" fill="#eab5cf"/>
<rect x="57.599999999999994" y="559.3" width="29.0" height="29.0" filter="url(#fi0)"/>
<path d="M57.599999999999994,559.3 V588.3 H86.6" fill="none" stroke="#444" stroke-width="0.9"/>
<rect x="73.1" y="559.6" width="13" height="7.6" fill="#fff" opacity="0.35"/>
<text x="85.8" y="563.8" font-family="'Liberation Sans', Arial, Helvetica, sans-serif" font-size="5.1" fill="#1a1a1a" text-anchor="end" style="stroke-width:0.15px">50 μm</text>
<line x1="76.8" y1="566" x2="81.39999999999999" y2="566" stroke="#111" stroke-width="1.2"/>
<rect x="23.0" y="559.3" width="63.6" height="107.0" fill="none" stroke="#555" stroke-width="0.8"/>
<text x="85.6" y="659.5" font-family="'Liberation Sans', Arial, Helvetica, sans-serif" font-size="6.1" fill="#1a1a1a" text-anchor="end">1,000 μm</text>
<line x1="71.1" y1="662.4" x2="77.89999999999999" y2="662.4" stroke="#111" stroke-width="1.3"/>
<clipPath id="lc1"><path d="M92.7,577.8 C94.9,572.9 101.5,576.2 106.0,576.5 C110.5,576.8 114.5,576.8 119.5,579.5 C124.5,582.2 133.0,585.5 136.3,592.8 C139.7,600.0 139.6,614.6 139.6,623.0 C139.6,631.4 138.5,636.9 136.3,643.0 C134.1,649.1 130.7,657.4 126.2,659.9 C121.7,662.4 114.5,661.6 109.5,658.2 C104.5,654.9 98.8,648.5 96.0,639.8 C93.2,631.1 93.2,616.3 92.7,606.0 C92.2,595.7 90.5,582.7 92.7,577.8Z"/></clipPath>
<path d="M92.7,577.8 C94.9,572.9 101.5,576.2 106.0,576.5 C110.5,576.8 114.5,576.8 119.5,579.5 C124.5,582.2 133.0,585.5 136.3,592.8 C139.7,600.0 139.6,614.6 139.6,623.0 C139.6,631.4 138.5,636.9 136.3,643.0 C134.1,649.1 130.7,657.4 126.2,659.9 C121.7,662.4 114.5,661.6 109.5,658.2 C104.5,654.9 98.8,648.5 96.0,639.8 C93.2,631.1 93.2,616.3 92.7,606.0 C92.2,595.7 90.5,582.7 92.7,577.8Z" fill="#f5f2f5"/>
<g clip-path="url(#lc1)">
<rect x="91.7" y="575.5" width="48.9" height="85.4" filter="url(#fs1)"/>
<rect x="91.7" y="575.5" width="48.9" height="85.4" filter="url(#ft1)"/>
</g>
<path d="M92.7,577.8 C94.9,572.9 101.5,576.2 106.0,576.5 C110.5,576.8 114.5,576.8 119.5,579.5 C124.5,582.2 133.0,585.5 136.3,592.8 C139.7,600.0 139.6,614.6 139.6,623.0 C139.6,631.4 138.5,636.9 136.3,643.0 C134.1,649.1 130.7,657.4 126.2,659.9 C121.7,662.4 114.5,661.6 109.5,658.2 C104.5,654.9 98.8,648.5 96.0,639.8 C93.2,631.1 93.2,616.3 92.7,606.0 C92.2,595.7 90.5,582.7 92.7,577.8Z" fill="none" stroke="#d3cdd3" stroke-width="0.9"/>
<rect x="129.0" y="606.4000000000001" width="3.6" height="3.6" fill="#b04d86" stroke="#3a2030" stroke-width="0.6"/>
<rect x="123.80000000000001" y="559.3" width="29.0" height="29.0" fill="#e5a9c9"/>
<rect x="123.80000000000001" y="559.3" width="29.0" height="29.0" filter="url(#fi1)"/>
<path d="M123.80000000000001,559.3 V588.3 H152.8" fill="none" stroke="#444" stroke-width="0.9"/>
<rect x="139.3" y="559.6" width="13" height="7.6" fill="#fff" opacity="0.35"/>
<text x="152.0" y="563.8" font-family="'Liberation Sans', Arial, Helvetica, sans-serif" font-size="5.1" fill="#1a1a1a" text-anchor="end" style="stroke-width:0.15px">50 μm</text>
<line x1="143.0" y1="566" x2="147.60000000000002" y2="566" stroke="#111" stroke-width="1.2"/>
<rect x="89.2" y="559.3" width="63.6" height="107.0" fill="none" stroke="#555" stroke-width="0.8"/>
<text x="151.8" y="659.5" font-family="'Liberation Sans', Arial, Helvetica, sans-serif" font-size="6.1" fill="#1a1a1a" text-anchor="end">1,000 μm</text>
<line x1="137.3" y1="662.4" x2="144.10000000000002" y2="662.4" stroke="#111" stroke-width="1.3"/>
<clipPath id="lc2"><path d="M161.0,592.0 C162.7,588.7 164.6,586.9 168.7,585.0 C172.8,583.1 179.9,579.8 185.5,580.5 C191.1,581.2 199.0,582.4 202.3,589.5 C205.7,596.6 205.6,613.0 205.6,623.0 C205.6,633.0 205.7,643.2 202.3,649.8 C199.0,656.4 191.7,660.7 185.5,662.4 C179.3,664.1 169.9,665.1 165.4,659.9 C160.9,654.7 159.8,640.5 158.7,631.4 C157.5,622.2 158.1,611.6 158.5,605.0 C158.9,598.4 159.3,595.3 161.0,592.0Z"/></clipPath>
<path d="M161.0,592.0 C162.7,588.7 164.6,586.9 168.7,585.0 C172.8,583.1 179.9,579.8 185.5,580.5 C191.1,581.2 199.0,582.4 202.3,589.5 C205.7,596.6 205.6,613.0 205.6,623.0 C205.6,633.0 205.7,643.2 202.3,649.8 C199.0,656.4 191.7,660.7 185.5,662.4 C179.3,664.1 169.9,665.1 165.4,659.9 C160.9,654.7 159.8,640.5 158.7,631.4 C157.5,622.2 158.1,611.6 158.5,605.0 C158.9,598.4 159.3,595.3 161.0,592.0Z" fill="#f4f0f4"/>
<g clip-path="url(#lc2)">
<rect x="157.5" y="579.5" width="49.1" height="83.9" filter="url(#fs2)"/>
<rect x="157.5" y="579.5" width="49.1" height="83.9" filter="url(#ft2)"/>
</g>
<path d="M161.0,592.0 C162.7,588.7 164.6,586.9 168.7,585.0 C172.8,583.1 179.9,579.8 185.5,580.5 C191.1,581.2 199.0,582.4 202.3,589.5 C205.7,596.6 205.6,613.0 205.6,623.0 C205.6,633.0 205.7,643.2 202.3,649.8 C199.0,656.4 191.7,660.7 185.5,662.4 C179.3,664.1 169.9,665.1 165.4,659.9 C160.9,654.7 159.8,640.5 158.7,631.4 C157.5,622.2 158.1,611.6 158.5,605.0 C158.9,598.4 159.3,595.3 161.0,592.0Z" fill="none" stroke="#d3cdd3" stroke-width="0.9"/>
<rect x="193.7" y="596.9000000000001" width="3.6" height="3.6" fill="#b04d86" stroke="#3a2030" stroke-width="0.6"/>
<rect x="189.9" y="559.3" width="29.0" height="29.0" fill="#ebbcd5"/>
<rect x="189.9" y="559.3" width="29.0" height="29.0" filter="url(#fi2)"/>
<path d="M189.9,559.3 V588.3 H218.9" fill="none" stroke="#444" stroke-width="0.9"/>
<rect x="205.4" y="559.6" width="13" height="7.6" fill="#fff" opacity="0.35"/>
<text x="218.1" y="563.8" font-family="'Liberation Sans', Arial, Helvetica, sans-serif" font-size="5.1" fill="#1a1a1a" text-anchor="end" style="stroke-width:0.15px">50 μm</text>
<line x1="209.1" y1="566" x2="213.70000000000002" y2="566" stroke="#111" stroke-width="1.2"/>
<rect x="155.3" y="559.3" width="63.6" height="107.0" fill="none" stroke="#555" stroke-width="0.8"/>
<text x="217.9" y="659.5" font-family="'Liberation Sans', Arial, Helvetica, sans-serif" font-size="6.1" fill="#1a1a1a" text-anchor="end">1,000 μm</text>
<line x1="203.4" y1="662.4" x2="210.20000000000002" y2="662.4" stroke="#111" stroke-width="1.3"/>
<clipPath id="lc3"><path d="M228.0,582.8 C230.9,577.2 236.9,579.0 243.1,581.0 C249.2,583.0 259.6,589.5 264.9,594.5 C270.2,599.5 273.6,605.1 275.0,611.3 C276.4,617.4 275.0,624.4 273.3,631.4 C271.6,638.4 269.4,648.5 264.9,653.2 C260.4,658.0 252.1,661.0 246.5,659.9 C240.9,658.8 234.9,654.0 231.4,646.5 C227.9,639.0 226.1,625.2 225.5,614.6 C224.9,604.0 225.1,588.4 228.0,582.8Z"/></clipPath>
<path d="M228.0,582.8 C230.9,577.2 236.9,579.0 243.1,581.0 C249.2,583.0 259.6,589.5 264.9,594.5 C270.2,599.5 273.6,605.1 275.0,611.3 C276.4,617.4 275.0,624.4 273.3,631.4 C271.6,638.4 269.4,648.5 264.9,653.2 C260.4,658.0 252.1,661.0 246.5,659.9 C240.9,658.8 234.9,654.0 231.4,646.5 C227.9,639.0 226.1,625.2 225.5,614.6 C224.9,604.0 225.1,588.4 228.0,582.8Z" fill="#f2eff3"/>
<g clip-path="url(#lc3)">
<rect x="224.5" y="580.0" width="51.5" height="80.9" filter="url(#fs3)"/>
<rect x="224.5" y="580.0" width="51.5" height="80.9" filter="url(#ft3)"/>
</g>
<path d="M228.0,582.8 C230.9,577.2 236.9,579.0 243.1,581.0 C249.2,583.0 259.6,589.5 264.9,594.5 C270.2,599.5 273.6,605.1 275.0,611.3 C276.4,617.4 275.0,624.4 273.3,631.4 C271.6,638.4 269.4,648.5 264.9,653.2 C260.4,658.0 252.1,661.0 246.5,659.9 C240.9,658.8 234.9,654.0 231.4,646.5 C227.9,639.0 226.1,625.2 225.5,614.6 C224.9,604.0 225.1,588.4 228.0,582.8Z" fill="none" stroke="#d3cdd3" stroke-width="0.9"/>
<rect x="253.0" y="595.8000000000001" width="3.6" height="3.6" fill="#b04d86" stroke="#3a2030" stroke-width="0.6"/>
<rect x="256.0" y="559.3" width="29.0" height="29.0" fill="#e7b1cd"/>
<rect x="256.0" y="559.3" width="29.0" height="29.0" filter="url(#fi3)"/>
<path d="M256.0,559.3 V588.3 H285.0" fill="none" stroke="#444" stroke-width="0.9"/>
<rect x="271.5" y="559.6" width="13" height="7.6" fill="#fff" opacity="0.35"/>
<text x="284.2" y="563.8" font-family="'Liberation Sans', Arial, Helvetica, sans-serif" font-size="5.1" fill="#1a1a1a" text-anchor="end" style="stroke-width:0.15px">50 μm</text>
<line x1="275.2" y1="566" x2="279.8" y2="566" stroke="#111" stroke-width="1.2"/>
<rect x="221.4" y="559.3" width="63.6" height="107.0" fill="none" stroke="#555" stroke-width="0.8"/>
<text x="284.0" y="659.5" font-family="'Liberation Sans', Arial, Helvetica, sans-serif" font-size="6.1" fill="#1a1a1a" text-anchor="end">1,000 μm</text>
<line x1="269.5" y1="662.4" x2="276.3" y2="662.4" stroke="#111" stroke-width="1.3"/>
<clipPath id="lc4"><path d="M294.0,584.5 C296.5,578.2 300.5,581.2 305.8,582.0 C311.1,582.8 320.6,585.5 325.9,589.5 C331.2,593.5 335.9,599.3 337.6,606.3 C339.3,613.3 336.5,623.3 335.9,631.4 C335.3,639.5 337.3,649.8 334.2,654.8 C331.1,659.8 324.2,661.8 317.5,661.5 C310.8,661.2 298.5,660.2 294.0,653.2 C289.5,646.2 290.7,631.1 290.7,619.6 C290.7,608.1 291.5,590.8 294.0,584.5Z"/></clipPath>
<path d="M294.0,584.5 C296.5,578.2 300.5,581.2 305.8,582.0 C311.1,582.8 320.6,585.5 325.9,589.5 C331.2,593.5 335.9,599.3 337.6,606.3 C339.3,613.3 336.5,623.3 335.9,631.4 C335.3,639.5 337.3,649.8 334.2,654.8 C331.1,659.8 324.2,661.8 317.5,661.5 C310.8,661.2 298.5,660.2 294.0,653.2 C289.5,646.2 290.7,631.1 290.7,619.6 C290.7,608.1 291.5,590.8 294.0,584.5Z" fill="#efebef"/>
<g clip-path="url(#lc4)">
<rect x="289.7" y="581.0" width="48.9" height="81.5" filter="url(#fs4)"/>
<rect x="289.7" y="581.0" width="48.9" height="81.5" filter="url(#ft4)"/>
</g>
<path d="M294.0,584.5 C296.5,578.2 300.5,581.2 305.8,582.0 C311.1,582.8 320.6,585.5 325.9,589.5 C331.2,593.5 335.9,599.3 337.6,606.3 C339.3,613.3 336.5,623.3 335.9,631.4 C335.3,639.5 337.3,649.8 334.2,654.8 C331.1,659.8 324.2,661.8 317.5,661.5 C310.8,661.2 298.5,660.2 294.0,653.2 C289.5,646.2 290.7,631.1 290.7,619.6 C290.7,608.1 291.5,590.8 294.0,584.5Z" fill="none" stroke="#d3cdd3" stroke-width="0.9"/>
<rect x="299.7" y="601.5" width="3.6" height="3.6" fill="#b04d86" stroke="#3a2030" stroke-width="0.6"/>
<rect x="322.0" y="559.3" width="29.0" height="29.0" fill="#e4a3c8"/>
<rect x="322.0" y="559.3" width="29.0" height="29.0" filter="url(#fi4)"/>
<path d="M322.0,559.3 V588.3 H351.0" fill="none" stroke="#444" stroke-width="0.9"/>
<rect x="337.5" y="559.6" width="13" height="7.6" fill="#fff" opacity="0.35"/>
<text x="350.2" y="563.8" font-family="'Liberation Sans', Arial, Helvetica, sans-serif" font-size="5.1" fill="#1a1a1a" text-anchor="end" style="stroke-width:0.15px">50 μm</text>
<line x1="341.2" y1="566" x2="345.8" y2="566" stroke="#111" stroke-width="1.2"/>
<rect x="287.4" y="559.3" width="63.6" height="107.0" fill="none" stroke="#555" stroke-width="0.8"/>
<text x="350.0" y="659.5" font-family="'Liberation Sans', Arial, Helvetica, sans-serif" font-size="6.1" fill="#1a1a1a" text-anchor="end">1,000 μm</text>
<line x1="335.5" y1="662.4" x2="342.3" y2="662.4" stroke="#111" stroke-width="1.3"/>
<text x="365" y="538.1" font-family="'Liberation Sans', Arial, Helvetica, sans-serif" font-weight="bold" font-size="15">F</text>
<rect x="386.5" y="463.0" width="10.2" height="6.2" fill="#111111"/>
<text x="400.3" y="468.9" font-family="'Liberation Sans', Arial, Helvetica, sans-serif" font-style="italic" font-size="8.15" fill="#151515" style="white-space:pre">KRas<tspan font-size="4.2" dy="-2.7" fill="#3a3a3a" style="stroke-width:0.1px">G12D</tspan><tspan dy="2.7">;</tspan>Hace1<tspan font-size="4.2" dy="-2.7" fill="#3a3a3a" style="stroke-width:0.1px">+/+</tspan><tspan dy="2.7"> </tspan>Rac1<tspan font-size="4.2" dy="-2.7" fill="#3a3a3a" style="stroke-width:0.1px">+/+</tspan><tspan dy="2.7"> </tspan>Rac2<tspan font-size="4.2" dy="-2.7" fill="#3a3a3a" style="stroke-width:0.1px">+/+</tspan><tspan dy="2.7"></tspan></text>
<rect x="386.5" y="477.0" width="10.2" height="6.2" fill="#4aa84a"/>
<text x="400.3" y="482.9" font-family="'Liberation Sans', Arial, Helvetica, sans-serif" font-style="italic" font-size="8.15" fill="#151515" style="white-space:pre">KRas<tspan font-size="4.2" dy="-2.7" fill="#3a3a3a" style="stroke-width:0.1px">G12D</tspan><tspan dy="2.7">;</tspan>Rac1<tspan font-size="4.2" dy="-2.7" fill="#3a3a3a" style="stroke-width:0.1px">fl/fl</tspan><tspan dy="2.7"></tspan></text>
<rect x="386.5" y="490.9" width="10.2" height="6.2" fill="#fcd57f"/>
<text x="400.3" y="496.79999999999995" font-family="'Liberation Sans', Arial, Helvetica, sans-serif" font-style="italic" font-size="8.15" fill="#151515" style="white-space:pre">KRas<tspan font-size="4.2" dy="-2.7" fill="#3a3a3a" style="stroke-width:0.1px">G12D</tspan><tspan dy="2.7">;</tspan>Hace1<tspan font-size="4.2" dy="-2.7" fill="#3a3a3a" style="stroke-width:0.1px">-/-</tspan><tspan dy="2.7"> </tspan>Rac1<tspan font-size="4.2" dy="-2.7" fill="#3a3a3a" style="stroke-width:0.1px">fl/fl</tspan><tspan dy="2.7"></tspan></text>
<rect x="386.5" y="504.9" width="10.2" height="6.2" fill="#3b4aa3"/>
<text x="400.3" y="510.79999999999995" font-family="'Liberation Sans', Arial, Helvetica, sans-serif" font-style="italic" font-size="8.15" fill="#151515" style="white-space:pre">KRas<tspan font-size="4.2" dy="-2.7" fill="#3a3a3a" style="stroke-width:0.1px">G12D</tspan><tspan dy="2.7">;</tspan>Rac1<tspan font-size="4.2" dy="-2.7" fill="#3a3a3a" style="stroke-width:0.1px">fl/fl</tspan><tspan dy="2.7"> </tspan>Rac2<tspan font-size="4.2" dy="-2.7" fill="#3a3a3a" style="stroke-width:0.1px">-/-</tspan><tspan dy="2.7"></tspan></text>
<rect x="386.5" y="518.9" width="10.2" height="6.2" fill="#f39628"/>
<text x="400.3" y="524.8" font-family="'Liberation Sans', Arial, Helvetica, sans-serif" font-style="italic" font-size="8.15" fill="#151515" style="white-space:pre">KRas<tspan font-size="4.2" dy="-2.7" fill="#3a3a3a" style="stroke-width:0.1px">G12D</tspan><tspan dy="2.7">;</tspan>Hace1<tspan font-size="4.2" dy="-2.7" fill="#3a3a3a" style="stroke-width:0.1px">-/-</tspan><tspan dy="2.7"> </tspan>Rac1<tspan font-size="4.2" dy="-2.7" fill="#3a3a3a" style="stroke-width:0.1px">fl/fl</tspan><tspan dy="2.7"> </tspan>Rac2<tspan font-size="4.2" dy="-2.7" fill="#3a3a3a" style="stroke-width:0.1px">-/-</tspan><tspan dy="2.7"></tspan></text>
<text x="442.3" y="541.5" font-family="'Liberation Sans', Arial, Helvetica, sans-serif" font-size="7.8" fill="#151515" text-anchor="middle">Week 18 after induction</text>
<line x1="397" y1="550.0" x2="397" y2="664" stroke="#333" stroke-width="0.9"/>
<line x1="397" y1="664" x2="483" y2="664" stroke="#333" stroke-width="0.9"/>
<line x1="394.5" y1="664.0" x2="397" y2="664.0" stroke="#333" stroke-width="0.9"/>
<text x="393" y="666.5" font-family="'Liberation Sans', Arial, Helvetica, sans-serif" font-size="7" fill="#151515" text-anchor="end">0</text>
<line x1="394.5" y1="626.0" x2="397" y2="626.0" stroke="#333" stroke-width="0.9"/>
<text x="393" y="628.5" font-family="'Liberation Sans', Arial, Helvetica, sans-serif" font-size="7" fill="#151515" text-anchor="end">5</text>
<line x1="394.5" y1="588.0" x2="397" y2="588.0" stroke="#333" stroke-width="0.9"/>
<text x="393" y="590.5" font-family="'Liberation Sans', Arial, Helvetica, sans-serif" font-size="7" fill="#151515" text-anchor="end">10</text>
<line x1="394.5" y1="550.0" x2="397" y2="550.0" stroke="#333" stroke-width="0.9"/>
<text x="393" y="552.5" font-family="'Liberation Sans', Arial, Helvetica, sans-serif" font-size="7" fill="#151515" text-anchor="end">15</text>
<text transform="translate(379.6,611) rotate(-90)" font-family="'Liberation Sans', Arial, Helvetica, sans-serif" font-size="7.9" fill="#151515" text-anchor="middle">Tumor/lung ratio (%)</text>
<line x1="410.75" y1="581.16" x2="410.75" y2="599.02" stroke="#222" stroke-width="0.9"/>
<line x1="407.95" y1="581.16" x2="413.55" y2="581.16" stroke="#222" stroke-width="0.9"/>
<rect x="405.6" y="599.0" width="10.299999999999955" height="65.0" fill="#111111"/>
<line x1="426.5" y1="633.98" x2="426.5" y2="641.2" stroke="#222" stroke-width="0.9"/>
<line x1="423.7" y1="633.98" x2="429.3" y2="633.98" stroke="#222" stroke-width="0.9"/>
<rect x="421.4" y="641.2" width="10.200000000000045" height="22.8" fill="#4aa84a"/>
<line x1="442.4" y1="626.38" x2="442.4" y2="633.98" stroke="#222" stroke-width="0.9"/>
<line x1="439.59999999999997" y1="626.38" x2="445.2" y2="626.38" stroke="#222" stroke-width="0.9"/>
<rect x="437.2" y="634.0" width="10.400000000000034" height="30.0" fill="#fcd57f"/>
<line x1="458.4" y1="641.58" x2="458.4" y2="647.66" stroke="#222" stroke-width="0.9"/>
<line x1="455.59999999999997" y1="641.58" x2="461.2" y2="641.58" stroke="#222" stroke-width="0.9"/>
<rect x="453.2" y="647.7" width="10.400000000000034" height="16.3" fill="#3b4aa3"/>
<line x1="474.29999999999995" y1="646.14" x2="474.29999999999995" y2="649.94" stroke="#222" stroke-width="0.9"/>
<line x1="471.49999999999994" y1="646.14" x2="477.09999999999997" y2="646.14" stroke="#222" stroke-width="0.9"/>
<rect x="469.2" y="649.9" width="10.199999999999989" height="14.1" fill="#f39628"/>
<path d="M410.6,573.8 V550 H473.9 V626" fill="none" stroke="#333" stroke-width="0.8"/>
<path d="M410.6,557.4 H458 V626" fill="none" stroke="#333" stroke-width="0.8"/>
<path d="M410.6,564.7 H426.4 V626" fill="none" stroke="#333" stroke-width="0.8"/>
<text x="442.5" y="550.2" font-family="'Liberation Sans', Arial, Helvetica, sans-serif" font-size="6.5" fill="#151515" text-anchor="middle">**</text>
<text x="434.8" y="557.6" font-family="'Liberation Sans', Arial, Helvetica, sans-serif" font-size="6.5" fill="#151515" text-anchor="middle">**</text>
<text x="418" y="564.9" font-family="'Liberation Sans', Arial, Helvetica, sans-serif" font-size="6.5" fill="#151515" text-anchor="middle">*</text>
</svg>
</body></html>
